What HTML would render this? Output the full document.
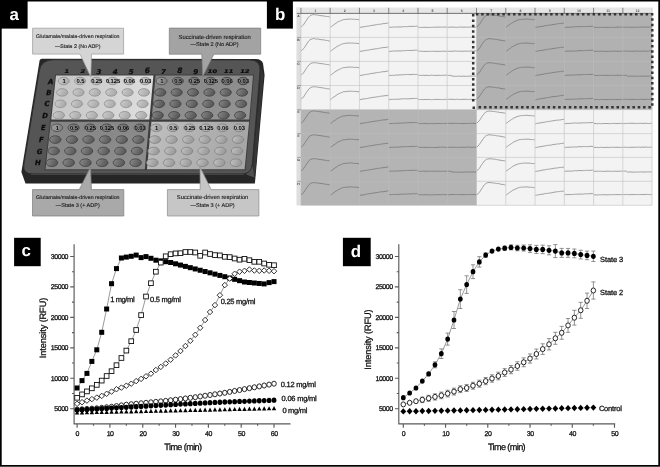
<!DOCTYPE html>
<html lang="en"><head><meta charset="utf-8"><title>Figure</title>
<style>html,body{margin:0;padding:0;background:#fff;overflow:hidden}svg{display:block}text{font-family:'Liberation Sans', Arial, sans-serif;text-rendering:geometricPrecision}</style></head><body>
<svg width="660" height="467" viewBox="0 0 660 467">
<defs>
<linearGradient id="wl" x1="0" y1="0.2" x2="1" y2="0.5"><stop offset="0" stop-color="#cbcbcb"/><stop offset="1" stop-color="#a8a8a8"/></linearGradient>
<linearGradient id="wd" x1="0" y1="0.2" x2="1" y2="0.5"><stop offset="0" stop-color="#868686"/><stop offset="1" stop-color="#545454"/></linearGradient>
<linearGradient id="wm" x1="0" y1="0.2" x2="1" y2="0.5"><stop offset="0" stop-color="#c2c2c2"/><stop offset="1" stop-color="#969696"/></linearGradient>
<linearGradient id="w1" x1="0" y1="0.2" x2="1" y2="0.5"><stop offset="0" stop-color="#a2a2a2"/><stop offset="1" stop-color="#7c7c7c"/></linearGradient>
<linearGradient id="wd2" x1="0" y1="0.2" x2="1" y2="0.5"><stop offset="0" stop-color="#888888"/><stop offset="1" stop-color="#565656"/></linearGradient>
<linearGradient id="qTL" x1="0" y1="0" x2="1" y2="0.15"><stop offset="0" stop-color="#c4c4c4"/><stop offset="0.6" stop-color="#d2d2d2"/><stop offset="1" stop-color="#dedede"/></linearGradient>
<linearGradient id="qTR" x1="0" y1="0" x2="1" y2="1"><stop offset="0" stop-color="#858585"/><stop offset="1" stop-color="#959595"/></linearGradient>
<linearGradient id="qBL" x1="0" y1="0" x2="1" y2="1"><stop offset="0" stop-color="#858585"/><stop offset="1" stop-color="#8e8e8e"/></linearGradient>
<linearGradient id="qBR" x1="0" y1="0" x2="1" y2="0.15"><stop offset="0" stop-color="#c0c0c0"/><stop offset="1" stop-color="#a6a6a6"/></linearGradient>
<filter id="soft" x="-2%" y="-2%" width="104%" height="104%"><feGaussianBlur stdDeviation="0.35"/></filter>
</defs>
<rect x="0" y="0" width="660" height="467" fill="#fff"/>
<g filter="url(#soft)">
<g id="panelA">
<path d="M42,58.8 L256,59 Q261.5,59.2 263,63.5 L264.6,75 L254.9,183.5 L25.5,183.5 L21.4,172 L39.6,60.5 Q40,58.8 42,58.8 Z" fill="#262626"/>
<path d="M261.2,68 L263.6,76 L255.2,176 L252.4,172 Z" fill="#343434"/>
<path d="M252.6,166 L254.4,177.5 L246,174.4 Z" fill="#505050"/>
<path d="M54,59.7 L249.5,59.9 Q260.8,60 260,71 L252.3,164 Q251.5,173.9 242,173.9 L33,173.9 Q22.3,173.9 23.9,164.5 L39.4,70.5 Q41.2,59.7 54,59.7 Z" fill="#545454" stroke="#2e2e2e" stroke-width="0.9"/>
<path d="M31,174.5 L244,174.5" stroke="#5e5e5e" stroke-width="0.5" fill="none"/>
<path d="M55.2,74.4 L254,74.4 L245.6,170.2 L44.4,170.2 Z" fill="#3e3e3e"/>
<path d="M56,75.4 L153.4,75.4 L149.4,119.6 L51.3,119.6 Z" fill="url(#qTL)"/>
<path d="M155.6,75.4 L253,75.4 L249.2,119.6 L151.6,119.6 Z" fill="url(#qTR)"/>
<path d="M50.9,121.8 L149.1,121.8 L144.8,169.2 L45.5,169.2 Z" fill="url(#qBL)"/>
<path d="M151.4,121.8 L249.1,121.8 L244.6,169.2 L147,169.2 Z" fill="url(#qBR)"/>
<ellipse cx="63.8" cy="81" rx="5.5" ry="3.72" fill="url(#wl)" stroke="#8c8c8c" stroke-width="0.8"/>
<ellipse cx="80.1" cy="81" rx="5.5" ry="3.72" fill="url(#wl)" stroke="#8c8c8c" stroke-width="0.8"/>
<ellipse cx="96.4" cy="81" rx="5.5" ry="3.72" fill="url(#wl)" stroke="#8c8c8c" stroke-width="0.8"/>
<ellipse cx="112.7" cy="81" rx="5.5" ry="3.72" fill="url(#wl)" stroke="#8c8c8c" stroke-width="0.8"/>
<ellipse cx="129" cy="81" rx="5.5" ry="3.72" fill="url(#wl)" stroke="#8c8c8c" stroke-width="0.8"/>
<ellipse cx="145.3" cy="81" rx="5.5" ry="3.72" fill="url(#wl)" stroke="#8c8c8c" stroke-width="0.8"/>
<ellipse cx="161.6" cy="81" rx="5.5" ry="3.72" fill="url(#w1)" stroke="#484848" stroke-width="0.8"/>
<ellipse cx="177.9" cy="81" rx="5.5" ry="3.72" fill="url(#wd)" stroke="#3e3e3e" stroke-width="0.8"/>
<ellipse cx="194.2" cy="81" rx="5.5" ry="3.72" fill="url(#wd)" stroke="#3e3e3e" stroke-width="0.8"/>
<ellipse cx="210.5" cy="81" rx="5.5" ry="3.72" fill="url(#wd)" stroke="#3e3e3e" stroke-width="0.8"/>
<ellipse cx="226.8" cy="81" rx="5.5" ry="3.72" fill="url(#wd)" stroke="#3e3e3e" stroke-width="0.8"/>
<ellipse cx="243.1" cy="81" rx="5.5" ry="3.72" fill="url(#wd)" stroke="#3e3e3e" stroke-width="0.8"/>
<text x="50.6" y="83.6" font-size="6.9" font-weight="700" font-style="italic" text-anchor="middle" fill="#0d0d0d" stroke="#0d0d0d" stroke-width="0.28" style="font-family:'DejaVu Sans','Liberation Sans',sans-serif">A</text>
<ellipse cx="62.15" cy="92.4" rx="5.54" ry="3.74" fill="url(#wl)" stroke="#8c8c8c" stroke-width="0.8"/>
<ellipse cx="78.51" cy="92.4" rx="5.54" ry="3.74" fill="url(#wl)" stroke="#8c8c8c" stroke-width="0.8"/>
<ellipse cx="94.87" cy="92.4" rx="5.54" ry="3.74" fill="url(#wl)" stroke="#8c8c8c" stroke-width="0.8"/>
<ellipse cx="111.23" cy="92.4" rx="5.54" ry="3.74" fill="url(#wl)" stroke="#8c8c8c" stroke-width="0.8"/>
<ellipse cx="127.59" cy="92.4" rx="5.54" ry="3.74" fill="url(#wl)" stroke="#8c8c8c" stroke-width="0.8"/>
<ellipse cx="143.95" cy="92.4" rx="5.54" ry="3.74" fill="url(#wl)" stroke="#8c8c8c" stroke-width="0.8"/>
<ellipse cx="160.31" cy="92.4" rx="5.54" ry="3.74" fill="url(#wd)" stroke="#3e3e3e" stroke-width="0.8"/>
<ellipse cx="176.67" cy="92.4" rx="5.54" ry="3.74" fill="url(#wd)" stroke="#3e3e3e" stroke-width="0.8"/>
<ellipse cx="193.03" cy="92.4" rx="5.54" ry="3.74" fill="url(#wd)" stroke="#3e3e3e" stroke-width="0.8"/>
<ellipse cx="209.39" cy="92.4" rx="5.54" ry="3.74" fill="url(#wd)" stroke="#3e3e3e" stroke-width="0.8"/>
<ellipse cx="225.75" cy="92.4" rx="5.54" ry="3.74" fill="url(#wd)" stroke="#3e3e3e" stroke-width="0.8"/>
<ellipse cx="242.11" cy="92.4" rx="5.54" ry="3.74" fill="url(#wd)" stroke="#3e3e3e" stroke-width="0.8"/>
<text x="48.81" y="95" font-size="6.9" font-weight="700" font-style="italic" text-anchor="middle" fill="#0d0d0d" stroke="#0d0d0d" stroke-width="0.28" style="font-family:'DejaVu Sans','Liberation Sans',sans-serif">B</text>
<ellipse cx="60.51" cy="103.8" rx="5.57" ry="3.76" fill="url(#wl)" stroke="#8c8c8c" stroke-width="0.8"/>
<ellipse cx="76.93" cy="103.8" rx="5.57" ry="3.76" fill="url(#wl)" stroke="#8c8c8c" stroke-width="0.8"/>
<ellipse cx="93.35" cy="103.8" rx="5.57" ry="3.76" fill="url(#wl)" stroke="#8c8c8c" stroke-width="0.8"/>
<ellipse cx="109.77" cy="103.8" rx="5.57" ry="3.76" fill="url(#wl)" stroke="#8c8c8c" stroke-width="0.8"/>
<ellipse cx="126.19" cy="103.8" rx="5.57" ry="3.76" fill="url(#wl)" stroke="#8c8c8c" stroke-width="0.8"/>
<ellipse cx="142.61" cy="103.8" rx="5.57" ry="3.76" fill="url(#wl)" stroke="#8c8c8c" stroke-width="0.8"/>
<ellipse cx="159.03" cy="103.8" rx="5.57" ry="3.76" fill="url(#wd)" stroke="#3e3e3e" stroke-width="0.8"/>
<ellipse cx="175.45" cy="103.8" rx="5.57" ry="3.76" fill="url(#wd)" stroke="#3e3e3e" stroke-width="0.8"/>
<ellipse cx="191.87" cy="103.8" rx="5.57" ry="3.76" fill="url(#wd)" stroke="#3e3e3e" stroke-width="0.8"/>
<ellipse cx="208.29" cy="103.8" rx="5.57" ry="3.76" fill="url(#wd)" stroke="#3e3e3e" stroke-width="0.8"/>
<ellipse cx="224.71" cy="103.8" rx="5.57" ry="3.76" fill="url(#wd)" stroke="#3e3e3e" stroke-width="0.8"/>
<ellipse cx="241.13" cy="103.8" rx="5.57" ry="3.76" fill="url(#wd)" stroke="#3e3e3e" stroke-width="0.8"/>
<text x="47.02" y="106.4" font-size="6.9" font-weight="700" font-style="italic" text-anchor="middle" fill="#0d0d0d" stroke="#0d0d0d" stroke-width="0.28" style="font-family:'DejaVu Sans','Liberation Sans',sans-serif">C</text>
<ellipse cx="58.84" cy="115.3" rx="5.61" ry="3.78" fill="url(#wl)" stroke="#8c8c8c" stroke-width="0.8"/>
<ellipse cx="75.32" cy="115.3" rx="5.61" ry="3.78" fill="url(#wl)" stroke="#8c8c8c" stroke-width="0.8"/>
<ellipse cx="91.8" cy="115.3" rx="5.61" ry="3.78" fill="url(#wl)" stroke="#8c8c8c" stroke-width="0.8"/>
<ellipse cx="108.29" cy="115.3" rx="5.61" ry="3.78" fill="url(#wl)" stroke="#8c8c8c" stroke-width="0.8"/>
<ellipse cx="124.77" cy="115.3" rx="5.61" ry="3.78" fill="url(#wl)" stroke="#8c8c8c" stroke-width="0.8"/>
<ellipse cx="141.25" cy="115.3" rx="5.61" ry="3.78" fill="url(#wl)" stroke="#8c8c8c" stroke-width="0.8"/>
<ellipse cx="157.73" cy="115.3" rx="5.61" ry="3.78" fill="url(#wd)" stroke="#3e3e3e" stroke-width="0.8"/>
<ellipse cx="174.21" cy="115.3" rx="5.61" ry="3.78" fill="url(#wd)" stroke="#3e3e3e" stroke-width="0.8"/>
<ellipse cx="190.69" cy="115.3" rx="5.61" ry="3.78" fill="url(#wd)" stroke="#3e3e3e" stroke-width="0.8"/>
<ellipse cx="207.17" cy="115.3" rx="5.61" ry="3.78" fill="url(#wd)" stroke="#3e3e3e" stroke-width="0.8"/>
<ellipse cx="223.65" cy="115.3" rx="5.61" ry="3.78" fill="url(#wd)" stroke="#3e3e3e" stroke-width="0.8"/>
<ellipse cx="240.13" cy="115.3" rx="5.61" ry="3.78" fill="url(#wd)" stroke="#3e3e3e" stroke-width="0.8"/>
<text x="45.21" y="117.9" font-size="6.9" font-weight="700" font-style="italic" text-anchor="middle" fill="#0d0d0d" stroke="#0d0d0d" stroke-width="0.28" style="font-family:'DejaVu Sans','Liberation Sans',sans-serif">D</text>
<ellipse cx="57.04" cy="127.8" rx="5.65" ry="3.81" fill="url(#w1)" stroke="#484848" stroke-width="0.8"/>
<ellipse cx="73.58" cy="127.8" rx="5.65" ry="3.81" fill="url(#wd2)" stroke="#404040" stroke-width="0.8"/>
<ellipse cx="90.13" cy="127.8" rx="5.65" ry="3.81" fill="url(#wd2)" stroke="#404040" stroke-width="0.8"/>
<ellipse cx="106.68" cy="127.8" rx="5.65" ry="3.81" fill="url(#wd2)" stroke="#404040" stroke-width="0.8"/>
<ellipse cx="123.22" cy="127.8" rx="5.65" ry="3.81" fill="url(#wd2)" stroke="#404040" stroke-width="0.8"/>
<ellipse cx="139.77" cy="127.8" rx="5.65" ry="3.81" fill="url(#wd2)" stroke="#404040" stroke-width="0.8"/>
<ellipse cx="156.32" cy="127.8" rx="5.65" ry="3.81" fill="url(#wm)" stroke="#808080" stroke-width="0.8"/>
<ellipse cx="172.86" cy="127.8" rx="5.65" ry="3.81" fill="url(#wm)" stroke="#808080" stroke-width="0.8"/>
<ellipse cx="189.41" cy="127.8" rx="5.65" ry="3.81" fill="url(#wm)" stroke="#808080" stroke-width="0.8"/>
<ellipse cx="205.95" cy="127.8" rx="5.65" ry="3.81" fill="url(#wm)" stroke="#808080" stroke-width="0.8"/>
<ellipse cx="222.5" cy="127.8" rx="5.65" ry="3.81" fill="url(#wm)" stroke="#808080" stroke-width="0.8"/>
<ellipse cx="239.05" cy="127.8" rx="5.65" ry="3.81" fill="url(#wm)" stroke="#808080" stroke-width="0.8"/>
<text x="43.25" y="130.4" font-size="6.9" font-weight="700" font-style="italic" text-anchor="middle" fill="#0d0d0d" stroke="#0d0d0d" stroke-width="0.28" style="font-family:'DejaVu Sans','Liberation Sans',sans-serif">E</text>
<ellipse cx="55.33" cy="139.6" rx="5.68" ry="3.83" fill="url(#wd2)" stroke="#404040" stroke-width="0.8"/>
<ellipse cx="71.94" cy="139.6" rx="5.68" ry="3.83" fill="url(#wd2)" stroke="#404040" stroke-width="0.8"/>
<ellipse cx="88.55" cy="139.6" rx="5.68" ry="3.83" fill="url(#wd2)" stroke="#404040" stroke-width="0.8"/>
<ellipse cx="105.16" cy="139.6" rx="5.68" ry="3.83" fill="url(#wd2)" stroke="#404040" stroke-width="0.8"/>
<ellipse cx="121.77" cy="139.6" rx="5.68" ry="3.83" fill="url(#wd2)" stroke="#404040" stroke-width="0.8"/>
<ellipse cx="138.37" cy="139.6" rx="5.68" ry="3.83" fill="url(#wd2)" stroke="#404040" stroke-width="0.8"/>
<ellipse cx="154.98" cy="139.6" rx="5.68" ry="3.83" fill="url(#wm)" stroke="#808080" stroke-width="0.8"/>
<ellipse cx="171.59" cy="139.6" rx="5.68" ry="3.83" fill="url(#wm)" stroke="#808080" stroke-width="0.8"/>
<ellipse cx="188.2" cy="139.6" rx="5.68" ry="3.83" fill="url(#wm)" stroke="#808080" stroke-width="0.8"/>
<ellipse cx="204.81" cy="139.6" rx="5.68" ry="3.83" fill="url(#wm)" stroke="#808080" stroke-width="0.8"/>
<ellipse cx="221.42" cy="139.6" rx="5.68" ry="3.83" fill="url(#wm)" stroke="#808080" stroke-width="0.8"/>
<ellipse cx="238.02" cy="139.6" rx="5.68" ry="3.83" fill="url(#wm)" stroke="#808080" stroke-width="0.8"/>
<text x="41.4" y="142.2" font-size="6.9" font-weight="700" font-style="italic" text-anchor="middle" fill="#0d0d0d" stroke="#0d0d0d" stroke-width="0.28" style="font-family:'DejaVu Sans','Liberation Sans',sans-serif">F</text>
<ellipse cx="53.69" cy="151" rx="5.72" ry="3.85" fill="url(#wd2)" stroke="#404040" stroke-width="0.8"/>
<ellipse cx="70.35" cy="151" rx="5.72" ry="3.85" fill="url(#wd2)" stroke="#404040" stroke-width="0.8"/>
<ellipse cx="87.02" cy="151" rx="5.72" ry="3.85" fill="url(#wd2)" stroke="#404040" stroke-width="0.8"/>
<ellipse cx="103.69" cy="151" rx="5.72" ry="3.85" fill="url(#wd2)" stroke="#404040" stroke-width="0.8"/>
<ellipse cx="120.36" cy="151" rx="5.72" ry="3.85" fill="url(#wd2)" stroke="#404040" stroke-width="0.8"/>
<ellipse cx="137.03" cy="151" rx="5.72" ry="3.85" fill="url(#wd2)" stroke="#404040" stroke-width="0.8"/>
<ellipse cx="153.7" cy="151" rx="5.72" ry="3.85" fill="url(#wm)" stroke="#808080" stroke-width="0.8"/>
<ellipse cx="170.36" cy="151" rx="5.72" ry="3.85" fill="url(#wm)" stroke="#808080" stroke-width="0.8"/>
<ellipse cx="187.03" cy="151" rx="5.72" ry="3.85" fill="url(#wm)" stroke="#808080" stroke-width="0.8"/>
<ellipse cx="203.7" cy="151" rx="5.72" ry="3.85" fill="url(#wm)" stroke="#808080" stroke-width="0.8"/>
<ellipse cx="220.37" cy="151" rx="5.72" ry="3.85" fill="url(#wm)" stroke="#808080" stroke-width="0.8"/>
<ellipse cx="237.04" cy="151" rx="5.72" ry="3.85" fill="url(#wm)" stroke="#808080" stroke-width="0.8"/>
<text x="39.61" y="153.6" font-size="6.9" font-weight="700" font-style="italic" text-anchor="middle" fill="#0d0d0d" stroke="#0d0d0d" stroke-width="0.28" style="font-family:'DejaVu Sans','Liberation Sans',sans-serif">G</text>
<ellipse cx="51.99" cy="162.7" rx="5.76" ry="3.87" fill="url(#wd2)" stroke="#404040" stroke-width="0.8"/>
<ellipse cx="68.72" cy="162.7" rx="5.76" ry="3.87" fill="url(#wd2)" stroke="#404040" stroke-width="0.8"/>
<ellipse cx="85.45" cy="162.7" rx="5.76" ry="3.87" fill="url(#wd2)" stroke="#404040" stroke-width="0.8"/>
<ellipse cx="102.18" cy="162.7" rx="5.76" ry="3.87" fill="url(#wd2)" stroke="#404040" stroke-width="0.8"/>
<ellipse cx="118.91" cy="162.7" rx="5.76" ry="3.87" fill="url(#wd2)" stroke="#404040" stroke-width="0.8"/>
<ellipse cx="135.64" cy="162.7" rx="5.76" ry="3.87" fill="url(#wd2)" stroke="#404040" stroke-width="0.8"/>
<ellipse cx="152.37" cy="162.7" rx="5.76" ry="3.87" fill="url(#wm)" stroke="#808080" stroke-width="0.8"/>
<ellipse cx="169.1" cy="162.7" rx="5.76" ry="3.87" fill="url(#wm)" stroke="#808080" stroke-width="0.8"/>
<ellipse cx="185.83" cy="162.7" rx="5.76" ry="3.87" fill="url(#wm)" stroke="#808080" stroke-width="0.8"/>
<ellipse cx="202.56" cy="162.7" rx="5.76" ry="3.87" fill="url(#wm)" stroke="#808080" stroke-width="0.8"/>
<ellipse cx="219.29" cy="162.7" rx="5.76" ry="3.87" fill="url(#wm)" stroke="#808080" stroke-width="0.8"/>
<ellipse cx="236.02" cy="162.7" rx="5.76" ry="3.87" fill="url(#wm)" stroke="#808080" stroke-width="0.8"/>
<text x="37.77" y="165.3" font-size="6.9" font-weight="700" font-style="italic" text-anchor="middle" fill="#0d0d0d" stroke="#0d0d0d" stroke-width="0.28" style="font-family:'DejaVu Sans','Liberation Sans',sans-serif">H</text>
<text x="64.1" y="83.2" font-size="5.9" font-weight="700" text-anchor="middle" fill="#0a0a0a" stroke="#cfcfcf" stroke-opacity="0.32" stroke-width="0.9" stroke-linejoin="round" paint-order="stroke" letter-spacing="-0.1">1</text>
<text x="80.4" y="83.2" font-size="5.9" font-weight="700" text-anchor="middle" fill="#0a0a0a" stroke="#cfcfcf" stroke-opacity="0.32" stroke-width="0.9" stroke-linejoin="round" paint-order="stroke" letter-spacing="-0.1">0.5</text>
<text x="96.7" y="83.2" font-size="5.9" font-weight="700" text-anchor="middle" fill="#0a0a0a" stroke="#cfcfcf" stroke-opacity="0.32" stroke-width="0.9" stroke-linejoin="round" paint-order="stroke" letter-spacing="-0.1">0.25</text>
<text x="113" y="83.2" font-size="5.9" font-weight="700" text-anchor="middle" fill="#0a0a0a" stroke="#cfcfcf" stroke-opacity="0.32" stroke-width="0.9" stroke-linejoin="round" paint-order="stroke" letter-spacing="-0.1">0.125</text>
<text x="129.3" y="83.2" font-size="5.9" font-weight="700" text-anchor="middle" fill="#0a0a0a" stroke="#cfcfcf" stroke-opacity="0.32" stroke-width="0.9" stroke-linejoin="round" paint-order="stroke" letter-spacing="-0.1">0.06</text>
<text x="145.6" y="83.2" font-size="5.9" font-weight="700" text-anchor="middle" fill="#0a0a0a" stroke="#cfcfcf" stroke-opacity="0.32" stroke-width="0.9" stroke-linejoin="round" paint-order="stroke" letter-spacing="-0.1">0.03</text>
<text x="161.9" y="83.2" font-size="5.9" font-weight="700" text-anchor="middle" fill="#0a0a0a" stroke="#cfcfcf" stroke-opacity="0.32" stroke-width="0.9" stroke-linejoin="round" paint-order="stroke" letter-spacing="-0.1">1</text>
<text x="178.2" y="83.2" font-size="5.9" font-weight="700" text-anchor="middle" fill="#0a0a0a" stroke="#cfcfcf" stroke-opacity="0.32" stroke-width="0.9" stroke-linejoin="round" paint-order="stroke" letter-spacing="-0.1">0.5</text>
<text x="194.5" y="83.2" font-size="5.9" font-weight="700" text-anchor="middle" fill="#0a0a0a" stroke="#cfcfcf" stroke-opacity="0.32" stroke-width="0.9" stroke-linejoin="round" paint-order="stroke" letter-spacing="-0.1">0.25</text>
<text x="210.8" y="83.2" font-size="5.9" font-weight="700" text-anchor="middle" fill="#0a0a0a" stroke="#cfcfcf" stroke-opacity="0.32" stroke-width="0.9" stroke-linejoin="round" paint-order="stroke" letter-spacing="-0.1">0.125</text>
<text x="227.1" y="83.2" font-size="5.9" font-weight="700" text-anchor="middle" fill="#0a0a0a" stroke="#cfcfcf" stroke-opacity="0.32" stroke-width="0.9" stroke-linejoin="round" paint-order="stroke" letter-spacing="-0.1">0.06</text>
<text x="243.4" y="83.2" font-size="5.9" font-weight="700" text-anchor="middle" fill="#0a0a0a" stroke="#cfcfcf" stroke-opacity="0.32" stroke-width="0.9" stroke-linejoin="round" paint-order="stroke" letter-spacing="-0.1">0.03</text>
<text x="57.34" y="130" font-size="5.9" font-weight="700" text-anchor="middle" fill="#0a0a0a" stroke="#cfcfcf" stroke-opacity="0.32" stroke-width="0.9" stroke-linejoin="round" paint-order="stroke" letter-spacing="-0.1">1</text>
<text x="73.88" y="130" font-size="5.9" font-weight="700" text-anchor="middle" fill="#0a0a0a" stroke="#cfcfcf" stroke-opacity="0.32" stroke-width="0.9" stroke-linejoin="round" paint-order="stroke" letter-spacing="-0.1">0.5</text>
<text x="90.43" y="130" font-size="5.9" font-weight="700" text-anchor="middle" fill="#0a0a0a" stroke="#cfcfcf" stroke-opacity="0.32" stroke-width="0.9" stroke-linejoin="round" paint-order="stroke" letter-spacing="-0.1">0.25</text>
<text x="106.98" y="130" font-size="5.9" font-weight="700" text-anchor="middle" fill="#0a0a0a" stroke="#cfcfcf" stroke-opacity="0.32" stroke-width="0.9" stroke-linejoin="round" paint-order="stroke" letter-spacing="-0.1">0.125</text>
<text x="123.52" y="130" font-size="5.9" font-weight="700" text-anchor="middle" fill="#0a0a0a" stroke="#cfcfcf" stroke-opacity="0.32" stroke-width="0.9" stroke-linejoin="round" paint-order="stroke" letter-spacing="-0.1">0.06</text>
<text x="140.07" y="130" font-size="5.9" font-weight="700" text-anchor="middle" fill="#0a0a0a" stroke="#cfcfcf" stroke-opacity="0.32" stroke-width="0.9" stroke-linejoin="round" paint-order="stroke" letter-spacing="-0.1">0.03</text>
<text x="156.62" y="130" font-size="5.9" font-weight="700" text-anchor="middle" fill="#0a0a0a" stroke="#cfcfcf" stroke-opacity="0.32" stroke-width="0.9" stroke-linejoin="round" paint-order="stroke" letter-spacing="-0.1">1</text>
<text x="173.16" y="130" font-size="5.9" font-weight="700" text-anchor="middle" fill="#0a0a0a" stroke="#cfcfcf" stroke-opacity="0.32" stroke-width="0.9" stroke-linejoin="round" paint-order="stroke" letter-spacing="-0.1">0.5</text>
<text x="189.71" y="130" font-size="5.9" font-weight="700" text-anchor="middle" fill="#0a0a0a" stroke="#cfcfcf" stroke-opacity="0.32" stroke-width="0.9" stroke-linejoin="round" paint-order="stroke" letter-spacing="-0.1">0.25</text>
<text x="206.25" y="130" font-size="5.9" font-weight="700" text-anchor="middle" fill="#0a0a0a" stroke="#cfcfcf" stroke-opacity="0.32" stroke-width="0.9" stroke-linejoin="round" paint-order="stroke" letter-spacing="-0.1">0.125</text>
<text x="222.8" y="130" font-size="5.9" font-weight="700" text-anchor="middle" fill="#0a0a0a" stroke="#cfcfcf" stroke-opacity="0.32" stroke-width="0.9" stroke-linejoin="round" paint-order="stroke" letter-spacing="-0.1">0.06</text>
<text x="239.35" y="130" font-size="5.9" font-weight="700" text-anchor="middle" fill="#0a0a0a" stroke="#cfcfcf" stroke-opacity="0.32" stroke-width="0.9" stroke-linejoin="round" paint-order="stroke" letter-spacing="-0.1">0.03</text>
<text transform="translate(66.8,72.7) scale(1.38,1)" font-size="4.9" font-weight="700" font-style="italic" text-anchor="middle" fill="#0d0d0d" stroke="#0d0d0d" stroke-width="0.22" style="font-family:'DejaVu Sans','Liberation Sans',sans-serif">1</text>
<text transform="translate(82.93,72.7) scale(1.38,1)" font-size="4.9" font-weight="700" font-style="italic" text-anchor="middle" fill="#0d0d0d" stroke="#0d0d0d" stroke-width="0.22" style="font-family:'DejaVu Sans','Liberation Sans',sans-serif">2</text>
<text transform="translate(99.06,74) scale(1.08,1)" font-size="6.6" font-weight="700" font-style="italic" text-anchor="middle" fill="#0d0d0d" stroke="#0d0d0d" stroke-width="0.22" style="font-family:'DejaVu Sans','Liberation Sans',sans-serif">3</text>
<text transform="translate(115.19,74) scale(1.08,1)" font-size="6.6" font-weight="700" font-style="italic" text-anchor="middle" fill="#0d0d0d" stroke="#0d0d0d" stroke-width="0.22" style="font-family:'DejaVu Sans','Liberation Sans',sans-serif">4</text>
<text transform="translate(131.32,74) scale(1.08,1)" font-size="6.6" font-weight="700" font-style="italic" text-anchor="middle" fill="#0d0d0d" stroke="#0d0d0d" stroke-width="0.22" style="font-family:'DejaVu Sans','Liberation Sans',sans-serif">5</text>
<text transform="translate(147.45,72.7) scale(1,1)" font-size="7.4" font-weight="700" font-style="italic" text-anchor="middle" fill="#0d0d0d" stroke="#0d0d0d" stroke-width="0.22" style="font-family:'DejaVu Sans','Liberation Sans',sans-serif">6</text>
<text transform="translate(163.58,74) scale(1.08,1)" font-size="6.6" font-weight="700" font-style="italic" text-anchor="middle" fill="#0d0d0d" stroke="#0d0d0d" stroke-width="0.22" style="font-family:'DejaVu Sans','Liberation Sans',sans-serif">7</text>
<text transform="translate(179.71,72.7) scale(1,1)" font-size="7.4" font-weight="700" font-style="italic" text-anchor="middle" fill="#0d0d0d" stroke="#0d0d0d" stroke-width="0.22" style="font-family:'DejaVu Sans','Liberation Sans',sans-serif">8</text>
<text transform="translate(195.84,74) scale(1.08,1)" font-size="6.6" font-weight="700" font-style="italic" text-anchor="middle" fill="#0d0d0d" stroke="#0d0d0d" stroke-width="0.22" style="font-family:'DejaVu Sans','Liberation Sans',sans-serif">9</text>
<text transform="translate(212.57,72.7) scale(1.38,1)" font-size="4.9" font-weight="700" font-style="italic" text-anchor="middle" fill="#0d0d0d" stroke="#0d0d0d" stroke-width="0.22" style="font-family:'DejaVu Sans','Liberation Sans',sans-serif">10</text>
<text transform="translate(228.7,72.7) scale(1.38,1)" font-size="4.9" font-weight="700" font-style="italic" text-anchor="middle" fill="#0d0d0d" stroke="#0d0d0d" stroke-width="0.22" style="font-family:'DejaVu Sans','Liberation Sans',sans-serif">11</text>
<text transform="translate(244.83,72.7) scale(1.38,1)" font-size="4.9" font-weight="700" font-style="italic" text-anchor="middle" fill="#0d0d0d" stroke="#0d0d0d" stroke-width="0.22" style="font-family:'DejaVu Sans','Liberation Sans',sans-serif">12</text>
<path d="M32.6,28.2 L123.6,28.2 L123.6,54.1 L91.5,54.1 L90.8,77 L80,54.1 L32.6,54.1 Z" fill="#d5d5d5" stroke="#999" stroke-width="0.7" stroke-linejoin="miter"/>
<text x="77.8" y="38.3" font-size="5.26" text-anchor="middle" fill="#1a1a1a" stroke="#1a1a1a" stroke-width="0.12">Glutamate/malate-driven respiration</text>
<text x="77.8" y="48" font-size="5.28" text-anchor="middle" fill="#1a1a1a" stroke="#1a1a1a" stroke-width="0.12">—State 2 (No ADP)</text>
<path d="M169.3,28.1 L260.7,28.1 L260.7,54.2 L213.9,54.2 L202.6,76.8 L201.8,54.2 L169.3,54.2 Z" fill="#a3a3a3" stroke="#7c7c7c" stroke-width="0.7" stroke-linejoin="miter"/>
<text x="214.6" y="38.7" font-size="5.82" text-anchor="middle" fill="#1a1a1a" stroke="#1a1a1a" stroke-width="0.12">Succinate-driven respiration</text>
<text x="214.6" y="46.3" font-size="5.56" text-anchor="middle" fill="#1a1a1a" stroke="#1a1a1a" stroke-width="0.12">—State 2 (No ADP)</text>
<path d="M32.5,189.6 L79.3,189.6 L90.6,166.8 L91.4,189.6 L123.8,189.6 L123.8,216 L32.5,216 Z" fill="#a9a9a9" stroke="#7c7c7c" stroke-width="0.7" stroke-linejoin="miter"/>
<text x="77.8" y="199" font-size="5.26" text-anchor="middle" fill="#1a1a1a" stroke="#1a1a1a" stroke-width="0.12">Glutamate/malate-driven respiration</text>
<text x="77.8" y="206.6" font-size="5.5" text-anchor="middle" fill="#1a1a1a" stroke="#1a1a1a" stroke-width="0.12">—State 3 (+ ADP)</text>
<path d="M167.4,189.6 L200.2,189.6 L200,167 L211.2,189.6 L258.9,189.6 L258.9,216 L167.4,216 Z" fill="#c6c6c6" stroke="#8c8c8c" stroke-width="0.7" stroke-linejoin="miter"/>
<text x="212.6" y="199.3" font-size="5.78" text-anchor="middle" fill="#1a1a1a" stroke="#1a1a1a" stroke-width="0.12">Succinate-driven respiration</text>
<text x="212.6" y="206.9" font-size="5.55" text-anchor="middle" fill="#1a1a1a" stroke="#1a1a1a" stroke-width="0.12">—State 3 (+ ADP)</text>
</g>
<g id="panelB">
<rect x="296.3" y="7.6" width="355.8" height="197.7" fill="#f3f3f3"/>
<rect x="296.3" y="7.6" width="355.8" height="5.8" fill="#e6e6e6"/>
<rect x="296.3" y="7.6" width="4.6" height="197.7" fill="#e9e9e9"/>
<rect x="476.5" y="13.4" width="175.6" height="96.3" fill="#b1b1b1"/>
<rect x="300.9" y="109.7" width="175.6" height="95.6" fill="#b4b4b4"/>
<rect x="297.1" y="13.4" width="3.8" height="191.9" fill="#dedede"/>
<path d="M300.9,7.6 V205.3 M330.17,7.6 V205.3 M359.43,7.6 V205.3 M388.7,7.6 V205.3 M417.97,7.6 V205.3 M447.23,7.6 V205.3 M476.5,7.6 V205.3 M505.77,7.6 V205.3 M535.03,7.6 V205.3 M564.3,7.6 V205.3 M593.57,7.6 V205.3 M622.83,7.6 V205.3 M652.1,7.6 V205.3 M300.9,13.4 H652.1 M300.9,37.4 H652.1 M300.9,61.4 H652.1 M300.9,85.5 H652.1 M300.9,109.7 H652.1 M300.9,133.6 H652.1 M300.9,157.4 H652.1 M300.9,181.3 H652.1 M300.9,205.3 H652.1" stroke="#bdbdbd" stroke-width="0.55" fill="none"/>
<path d="M300.9,7.9 V13.4 M330.17,7.9 V13.4 M359.43,7.9 V13.4 M388.7,7.9 V13.4 M417.97,7.9 V13.4 M447.23,7.9 V13.4 M476.5,7.9 V13.4 M505.77,7.9 V13.4 M535.03,7.9 V13.4 M564.3,7.9 V13.4 M593.57,7.9 V13.4 M622.83,7.9 V13.4" stroke="#6a6a6a" stroke-width="0.7" fill="none"/>
<path d="M296.8,13.4 H652.1" stroke="#5e5e5e" stroke-width="0.8" fill="none"/>
<path d="M297.1,37.4 H300.9 M297.1,61.4 H300.9 M297.1,85.5 H300.9 M297.1,109.7 H300.9 M297.1,133.6 H300.9 M297.1,157.4 H300.9 M297.1,181.3 H300.9" stroke="#7a7a7a" stroke-width="0.6" fill="none"/>
<text x="315.53" y="11.8" font-size="3.6" font-weight="700" text-anchor="middle" fill="#555">1</text>
<text x="344.8" y="11.8" font-size="3.6" font-weight="700" text-anchor="middle" fill="#555">2</text>
<text x="374.07" y="11.8" font-size="3.6" font-weight="700" text-anchor="middle" fill="#555">3</text>
<text x="403.33" y="11.8" font-size="3.6" font-weight="700" text-anchor="middle" fill="#555">4</text>
<text x="432.6" y="11.8" font-size="3.6" font-weight="700" text-anchor="middle" fill="#555">5</text>
<text x="461.87" y="11.8" font-size="3.6" font-weight="700" text-anchor="middle" fill="#555">6</text>
<text x="491.13" y="11.8" font-size="3.6" font-weight="700" text-anchor="middle" fill="#555">7</text>
<text x="520.4" y="11.8" font-size="3.6" font-weight="700" text-anchor="middle" fill="#555">8</text>
<text x="549.67" y="11.8" font-size="3.6" font-weight="700" text-anchor="middle" fill="#555">9</text>
<text x="578.93" y="11.8" font-size="3.6" font-weight="700" text-anchor="middle" fill="#555">10</text>
<text x="608.2" y="11.8" font-size="3.6" font-weight="700" text-anchor="middle" fill="#555">11</text>
<text x="637.47" y="11.8" font-size="3.6" font-weight="700" text-anchor="middle" fill="#555">12</text>
<text x="298.5" y="17" font-size="3.3" font-weight="700" text-anchor="middle" fill="#2a2a2a">A</text>
<text x="298.5" y="41" font-size="3.3" font-weight="700" text-anchor="middle" fill="#2a2a2a">B</text>
<text x="298.5" y="65" font-size="3.3" font-weight="700" text-anchor="middle" fill="#2a2a2a">C</text>
<text x="298.5" y="89.1" font-size="3.3" font-weight="700" text-anchor="middle" fill="#2a2a2a">D</text>
<text x="298.5" y="113.3" font-size="3.3" font-weight="700" text-anchor="middle" fill="#2a2a2a">E</text>
<text x="298.5" y="137.2" font-size="3.3" font-weight="700" text-anchor="middle" fill="#2a2a2a">F</text>
<text x="298.5" y="161" font-size="3.3" font-weight="700" text-anchor="middle" fill="#2a2a2a">G</text>
<text x="298.5" y="184.9" font-size="3.3" font-weight="700" text-anchor="middle" fill="#2a2a2a">H</text>
<path d="M301.3,26.67L302.39,25.85L303.49,24.85L304.58,23.07L305.68,21.49L306.77,19.71L307.87,18.12L308.96,16.81L310.06,15.71L311.15,15.14L312.25,14.81L313.34,14.58L314.44,14.66L315.53,14.92L316.63,14.86L317.72,15.03L318.82,15.3L319.91,15.56L321.01,15.61L322.1,15.72L323.2,16.05L324.29,15.95L325.39,16.36L326.48,16.39L327.58,16.53L328.67,16.71L329.77,16.94" stroke="#8a8a8a" stroke-width="0.8" fill="none" stroke-linejoin="round"/>
<path d="M330.57,27.29L331.66,26.3L332.76,25.61L333.85,24.82L334.95,23.96L336.04,23.24L337.14,22.32L338.23,21.7L339.33,21.22L340.42,20.84L341.52,20.32L342.61,19.87L343.71,19.63L344.8,19.47L345.89,19.3L346.99,19.32L348.08,19.2L349.18,19.04L350.27,19.1L351.37,19.05L352.46,19.24L353.56,19.28L354.65,19.24L355.75,19.52L356.84,19.36L357.94,19.53L359.03,19.71" stroke="#8a8a8a" stroke-width="0.8" fill="none" stroke-linejoin="round"/>
<path d="M359.83,27.34L360.93,27.25L362.02,26.94L363.12,26.93L364.21,26.78L365.31,26.54L366.4,26.44L367.5,26.09L368.59,26.02L369.69,25.81L370.78,25.62L371.88,25.4L372.97,25.32L374.07,25.17L375.16,24.87L376.26,24.75L377.35,24.42L378.45,24.43L379.54,24.25L380.64,24.19L381.73,23.99L382.83,23.7L383.92,23.6L385.02,23.56L386.11,23.24L387.21,23.24L388.3,23.02" stroke="#8a8a8a" stroke-width="0.8" fill="none" stroke-linejoin="round"/>
<path d="M389.1,27.18L390.19,27.11L391.29,27.33L392.38,27.04L393.48,27.04L394.57,27.05L395.67,27.18L396.76,26.84L397.86,26.93L398.95,26.92L400.05,27L401.14,26.93L402.24,26.9L403.33,26.64L404.43,26.64L405.52,26.57L406.62,26.73L407.71,26.73L408.81,26.4L409.9,26.38L411,26.37L412.09,26.34L413.19,26.4L414.28,26.41L415.38,26.26L416.47,26.13L417.57,26.26" stroke="#8a8a8a" stroke-width="0.8" fill="none" stroke-linejoin="round"/>
<path d="M418.37,27.27L419.46,27.34L420.56,27.49L421.65,27.39L422.75,27.33L423.84,27.36L424.94,27.39L426.03,27.15L427.13,27.47L428.22,27.42L429.32,27.46L430.41,27.43L431.51,27.28L432.6,27.28L433.69,27.16L434.79,27.35L435.88,27.13L436.98,27.12L438.07,27.16L439.17,27.14L440.26,27.2L441.36,27.08L442.45,27.05L443.55,27.1L444.64,27.07L445.74,27.16L446.83,27.02" stroke="#8a8a8a" stroke-width="0.8" fill="none" stroke-linejoin="round"/>
<path d="M447.63,27.34L448.73,27.24L449.82,27.07L450.92,27.11L452.01,27.14L453.11,27.15L454.2,27.06L455.3,27.33L456.39,27.38L457.49,27.19L458.58,27.19L459.68,27.04L460.77,27.05L461.87,27.14L462.96,27.1L464.06,27.3L465.15,27.05L466.25,26.98L467.34,27.32L468.44,27.16L469.53,27L470.63,27.14L471.72,26.94L472.82,27.12L473.91,27.28L475.01,27.23L476.1,27.15" stroke="#8a8a8a" stroke-width="0.8" fill="none" stroke-linejoin="round"/>
<path d="M476.9,26.65L477.99,25.91L479.09,24.71L480.18,23.27L481.28,21.49L482.37,19.83L483.47,18.2L484.56,16.72L485.66,15.94L486.75,15.3L487.85,15.03L488.94,14.79L490.04,14.77L491.13,14.89L492.23,14.89L493.32,15.12L494.42,15.22L495.51,15.29L496.61,15.45L497.7,15.69L498.8,15.84L499.89,16.13L500.99,16.39L502.08,16.43L503.18,16.76L504.27,16.96L505.37,17.13" stroke="#767676" stroke-width="0.8" fill="none" stroke-linejoin="round"/>
<path d="M506.17,27.16L507.26,26.31L508.36,25.51L509.45,24.69L510.55,23.91L511.64,23.26L512.74,22.56L513.83,21.93L514.93,21.3L516.02,20.83L517.12,20.42L518.21,19.81L519.31,19.65L520.4,19.6L521.49,19.44L522.59,19.31L523.68,19.14L524.78,19.02L525.87,19.16L526.97,18.99L528.06,19.21L529.16,19.35L530.25,19.27L531.35,19.36L532.44,19.6L533.54,19.62L534.63,19.54" stroke="#767676" stroke-width="0.8" fill="none" stroke-linejoin="round"/>
<path d="M535.43,27.33L536.53,27.15L537.62,27.19L538.72,26.97L539.81,26.6L540.91,26.61L542,26.47L543.1,26.19L544.19,25.92L545.29,25.79L546.38,25.49L547.48,25.27L548.57,25.36L549.67,25.08L550.76,24.88L551.86,24.83L552.95,24.52L554.05,24.48L555.14,24.3L556.24,23.96L557.33,23.82L558.43,23.71L559.52,23.56L560.62,23.53L561.71,23.31L562.81,23.23L563.9,23.01" stroke="#767676" stroke-width="0.8" fill="none" stroke-linejoin="round"/>
<path d="M564.7,27.47L565.79,27.22L566.89,27.21L567.98,27.21L569.08,27.29L570.17,27.06L571.27,27.2L572.36,27L573.46,26.96L574.55,26.91L575.65,26.68L576.74,26.79L577.84,26.65L578.93,26.53L580.03,26.79L581.12,26.51L582.22,26.58L583.31,26.64L584.41,26.55L585.5,26.43L586.6,26.47L587.69,26.46L588.79,26.51L589.88,26.23L590.98,26.37L592.07,26.22L593.17,26.2" stroke="#767676" stroke-width="0.8" fill="none" stroke-linejoin="round"/>
<path d="M593.97,27.42L595.06,27.32L596.16,27.34L597.25,27.42L598.35,27.47L599.44,27.3L600.54,27.36L601.63,27.32L602.73,27.32L603.82,27.39L604.92,27.3L606.01,27.33L607.11,27.31L608.2,27.49L609.29,27.39L610.39,27.44L611.48,27.46L612.58,27.19L613.67,27.3L614.77,27.43L615.86,27.38L616.96,27.11L618.05,27.1L619.15,27.21L620.24,27.06L621.34,27.11L622.43,27.04" stroke="#767676" stroke-width="0.8" fill="none" stroke-linejoin="round"/>
<path d="M623.23,27.26L624.33,27.31L625.42,27.35L626.52,27.07L627.61,27.28L628.71,27.26L629.8,27.07L630.9,27.34L631.99,27.38L633.09,27.1L634.18,27.37L635.28,27.16L636.37,27.2L637.47,27.38L638.56,27.32L639.66,27.05L640.75,27.15L641.85,27.17L642.94,27.09L644.04,27.03L645.13,27.07L646.23,27.21L647.32,26.94L648.42,27.13L649.51,27.08L650.61,26.91L651.7,27.02" stroke="#767676" stroke-width="0.8" fill="none" stroke-linejoin="round"/>
<path d="M301.3,50.76L302.39,49.95L303.49,48.68L304.58,47.33L305.68,45.56L306.77,43.88L307.87,42.13L308.96,40.74L310.06,39.71L311.15,39.24L312.25,38.87L313.34,38.59L314.44,38.66L315.53,38.94L316.63,39.06L317.72,39.04L318.82,39.16L319.91,39.55L321.01,39.61L322.1,39.81L323.2,39.79L324.29,39.95L325.39,40.32L326.48,40.42L327.58,40.51L328.67,40.94L329.77,41.04" stroke="#8a8a8a" stroke-width="0.8" fill="none" stroke-linejoin="round"/>
<path d="M330.57,51.29L331.66,50.27L332.76,49.69L333.85,48.65L334.95,48.1L336.04,47.21L337.14,46.4L338.23,45.85L339.33,45.43L340.42,44.72L341.52,44.23L342.61,43.93L343.71,43.53L344.8,43.37L345.89,43.26L346.99,43.1L348.08,43.06L349.18,43.06L350.27,43.02L351.37,43.12L352.46,43.07L353.56,43.21L354.65,43.21L355.75,43.34L356.84,43.33L357.94,43.48L359.03,43.5" stroke="#8a8a8a" stroke-width="0.8" fill="none" stroke-linejoin="round"/>
<path d="M359.83,51.51L360.93,51.27L362.02,50.98L363.12,50.88L364.21,50.83L365.31,50.4L366.4,50.42L367.5,50.13L368.59,49.96L369.69,49.87L370.78,49.56L371.88,49.41L372.97,49.28L374.07,49.18L375.16,48.83L376.26,48.8L377.35,48.6L378.45,48.41L379.54,48.18L380.64,48L381.73,47.77L382.83,47.66L383.92,47.51L385.02,47.58L386.11,47.31L387.21,47.15L388.3,47" stroke="#8a8a8a" stroke-width="0.8" fill="none" stroke-linejoin="round"/>
<path d="M389.1,51.45L390.19,51.41L391.29,51.29L392.38,51.1L393.48,51.04L394.57,51.01L395.67,51.03L396.76,50.87L397.86,50.93L398.95,50.82L400.05,51.03L401.14,50.99L402.24,50.78L403.33,50.62L404.43,50.85L405.52,50.56L406.62,50.53L407.71,50.37L408.81,50.48L409.9,50.49L411,50.47L412.09,50.33L413.19,50.41L414.28,50.19L415.38,50.26L416.47,50.16L417.57,50.25" stroke="#8a8a8a" stroke-width="0.8" fill="none" stroke-linejoin="round"/>
<path d="M418.37,51.15L419.46,51.14L420.56,51.25L421.65,51.22L422.75,51.35L423.84,51.33L424.94,51.41L426.03,51.38L427.13,51.4L428.22,51.46L429.32,51.28L430.41,51.25L431.51,51.5L432.6,51.19L433.69,51.39L434.79,51.36L435.88,51.12L436.98,51.41L438.07,51.42L439.17,51.31L440.26,51.34L441.36,51.36L442.45,51.1L443.55,51.24L444.64,51.22L445.74,51.33L446.83,51.31" stroke="#8a8a8a" stroke-width="0.8" fill="none" stroke-linejoin="round"/>
<path d="M447.63,51.32L448.73,51.23L449.82,51.35L450.92,51.27L452.01,51.27L453.11,51.1L454.2,51.02L455.3,51.06L456.39,51.15L457.49,51.05L458.58,51.33L459.68,51.22L460.77,51.25L461.87,51.25L462.96,51.26L464.06,51.18L465.15,50.99L466.25,51.27L467.34,51.25L468.44,51.15L469.53,51.15L470.63,51.19L471.72,50.95L472.82,51.2L473.91,51.01L475.01,50.93L476.1,50.99" stroke="#8a8a8a" stroke-width="0.8" fill="none" stroke-linejoin="round"/>
<path d="M476.9,50.79L477.99,49.87L479.09,48.88L480.18,47.33L481.28,45.48L482.37,43.71L483.47,42.24L484.56,40.86L485.66,39.92L486.75,39.2L487.85,38.97L488.94,38.58L490.04,38.58L491.13,38.75L492.23,39.04L493.32,39.06L494.42,39.28L495.51,39.29L496.61,39.46L497.7,39.68L498.8,39.96L499.89,40.13L500.99,40.31L502.08,40.39L503.18,40.64L504.27,40.81L505.37,40.99" stroke="#767676" stroke-width="0.8" fill="none" stroke-linejoin="round"/>
<path d="M506.17,51.09L507.26,50.51L508.36,49.5L509.45,48.91L510.55,48.12L511.64,47.08L512.74,46.44L513.83,45.92L514.93,45.44L516.02,44.77L517.12,44.27L518.21,43.84L519.31,43.73L520.4,43.4L521.49,43.38L522.59,43.13L523.68,43.15L524.78,43.24L525.87,42.97L526.97,43.13L528.06,43.13L529.16,43.32L530.25,43.36L531.35,43.31L532.44,43.58L533.54,43.55L534.63,43.5" stroke="#767676" stroke-width="0.8" fill="none" stroke-linejoin="round"/>
<path d="M535.43,51.3L536.53,51.25L537.62,51.06L538.72,50.83L539.81,50.6L540.91,50.47L542,50.28L543.1,50.25L544.19,49.82L545.29,49.85L546.38,49.69L547.48,49.3L548.57,49.35L549.67,49.1L550.76,48.99L551.86,48.65L552.95,48.5L554.05,48.34L555.14,48.35L556.24,48.07L557.33,47.86L558.43,47.75L559.52,47.57L560.62,47.38L561.71,47.26L562.81,47.35L563.9,47.06" stroke="#767676" stroke-width="0.8" fill="none" stroke-linejoin="round"/>
<path d="M564.7,51.48L565.79,51.18L566.89,51.14L567.98,51.19L569.08,51.02L570.17,51.04L571.27,51.21L572.36,51.14L573.46,51.07L574.55,50.95L575.65,51.01L576.74,50.98L577.84,50.78L578.93,50.8L580.03,50.51L581.12,50.71L582.22,50.57L583.31,50.65L584.41,50.58L585.5,50.42L586.6,50.3L587.69,50.6L588.79,50.27L589.88,50.37L590.98,50.29L592.07,50.24L593.17,50.38" stroke="#767676" stroke-width="0.8" fill="none" stroke-linejoin="round"/>
<path d="M593.97,51.5L595.06,51.23L596.16,51.38L597.25,51.25L598.35,51.34L599.44,51.28L600.54,51.2L601.63,51.19L602.73,51.21L603.82,51.47L604.92,51.32L606.01,51.22L607.11,51.47L608.2,51.51L609.29,51.29L610.39,51.17L611.48,51.18L612.58,51.13L613.67,51.21L614.77,51.11L615.86,51.16L616.96,51.16L618.05,51.26L619.15,51.37L620.24,51.31L621.34,51.18L622.43,51.17" stroke="#767676" stroke-width="0.8" fill="none" stroke-linejoin="round"/>
<path d="M623.23,51.21L624.33,51.15L625.42,51.14L626.52,51.04L627.61,51.12L628.71,51.38L629.8,51.06L630.9,51.2L631.99,51.25L633.09,51.34L634.18,51.09L635.28,51.11L636.37,51.11L637.47,51.16L638.56,51.17L639.66,51.35L640.75,51.3L641.85,51.3L642.94,50.97L644.04,50.97L645.13,51.21L646.23,51.27L647.32,51.11L648.42,51.14L649.51,50.91L650.61,51.05L651.7,51.24" stroke="#767676" stroke-width="0.8" fill="none" stroke-linejoin="round"/>
<path d="M301.3,74.87L302.39,74.11L303.49,72.99L304.58,71.16L305.68,69.4L306.77,67.67L307.87,66.27L308.96,64.87L310.06,63.98L311.15,63.23L312.25,62.98L313.34,62.78L314.44,62.67L315.53,62.85L316.63,62.84L317.72,63.2L318.82,63.2L319.91,63.56L321.01,63.64L322.1,63.7L323.2,63.81L324.29,64.02L325.39,64.31L326.48,64.52L327.58,64.53L328.67,64.71L329.77,65.02" stroke="#8a8a8a" stroke-width="0.8" fill="none" stroke-linejoin="round"/>
<path d="M330.57,75.28L331.66,74.41L332.76,73.56L333.85,72.85L334.95,71.9L336.04,71.21L337.14,70.47L338.23,70L339.33,69.38L340.42,68.93L341.52,68.36L342.61,67.88L343.71,67.56L344.8,67.64L345.89,67.44L346.99,67.2L348.08,67.03L349.18,67.13L350.27,67.15L351.37,67.04L352.46,67.08L353.56,67.29L354.65,67.45L355.75,67.33L356.84,67.36L357.94,67.53L359.03,67.64" stroke="#8a8a8a" stroke-width="0.8" fill="none" stroke-linejoin="round"/>
<path d="M359.83,75.55L360.93,75.23L362.02,75.21L363.12,75.01L364.21,74.76L365.31,74.49L366.4,74.52L367.5,74.15L368.59,74.11L369.69,73.75L370.78,73.56L371.88,73.53L372.97,73.21L374.07,73.22L375.16,72.92L376.26,72.66L377.35,72.51L378.45,72.4L379.54,72.3L380.64,72.22L381.73,71.84L382.83,71.78L383.92,71.6L385.02,71.69L386.11,71.32L387.21,71.16L388.3,71.03" stroke="#8a8a8a" stroke-width="0.8" fill="none" stroke-linejoin="round"/>
<path d="M389.1,75.34L390.19,75.48L391.29,75.43L392.38,75.33L393.48,75.38L394.57,75.31L395.67,75.04L396.76,74.94L397.86,75.17L398.95,75.05L400.05,74.74L401.14,74.93L402.24,74.78L403.33,74.73L404.43,74.67L405.52,74.56L406.62,74.46L407.71,74.53L408.81,74.53L409.9,74.72L411,74.38L412.09,74.67L413.19,74.35L414.28,74.38L415.38,74.52L416.47,74.49L417.57,74.32" stroke="#8a8a8a" stroke-width="0.8" fill="none" stroke-linejoin="round"/>
<path d="M418.37,75.21L419.46,75.37L420.56,75.33L421.65,75.54L422.75,75.26L423.84,75.33L424.94,75.53L426.03,75.2L427.13,75.34L428.22,75.5L429.32,75.48L430.41,75.21L431.51,75.2L432.6,75.21L433.69,75.53L434.79,75.27L435.88,75.44L436.98,75.49L438.07,75.27L439.17,75.24L440.26,75.49L441.36,75.35L442.45,75.21L443.55,75.37L444.64,75.21L445.74,75.18L446.83,75.07" stroke="#8a8a8a" stroke-width="0.8" fill="none" stroke-linejoin="round"/>
<path d="M447.63,75.35L448.73,75.41L449.82,75.31L450.92,75.42L452.01,76.04L453.11,76.12L454.2,76.21L455.3,76.39L456.39,76.39L457.49,76.18L458.58,76.13L459.68,76.2L460.77,76.22L461.87,76.38L462.96,76.09L464.06,76.32L465.15,76.28L466.25,76.31L467.34,76.28L468.44,76.21L469.53,76.09L470.63,76.08L471.72,76.09L472.82,76.23L473.91,75.96L475.01,76L476.1,76.2" stroke="#8a8a8a" stroke-width="0.8" fill="none" stroke-linejoin="round"/>
<path d="M476.9,74.7L477.99,73.88L479.09,72.72L480.18,71.25L481.28,69.46L482.37,67.91L483.47,66.38L484.56,64.96L485.66,63.79L486.75,63.05L487.85,62.82L488.94,62.71L490.04,62.75L491.13,62.82L492.23,62.9L493.32,63.1L494.42,63.31L495.51,63.48L496.61,63.67L497.7,63.86L498.8,63.97L499.89,63.98L500.99,64.37L502.08,64.4L503.18,64.66L504.27,64.79L505.37,65.08" stroke="#767676" stroke-width="0.8" fill="none" stroke-linejoin="round"/>
<path d="M506.17,75.17L507.26,74.37L508.36,73.56L509.45,72.72L510.55,72.15L511.64,71.29L512.74,70.43L513.83,69.84L514.93,69.48L516.02,68.82L517.12,68.29L518.21,68.04L519.31,67.67L520.4,67.65L521.49,67.27L522.59,67.25L523.68,67.26L524.78,67.23L525.87,67.22L526.97,66.93L528.06,67.09L529.16,67.13L530.25,67.23L531.35,67.55L532.44,67.52L533.54,67.7L534.63,67.63" stroke="#767676" stroke-width="0.8" fill="none" stroke-linejoin="round"/>
<path d="M535.43,75.6L536.53,75.3L537.62,75.06L538.72,75.02L539.81,74.89L540.91,74.46L542,74.41L543.1,74.24L544.19,73.93L545.29,73.79L546.38,73.54L547.48,73.37L548.57,73.2L549.67,73.12L550.76,72.97L551.86,72.67L552.95,72.45L554.05,72.37L555.14,72.31L556.24,72L557.33,71.88L558.43,71.72L559.52,71.76L560.62,71.56L561.71,71.29L562.81,71.17L563.9,71.13" stroke="#767676" stroke-width="0.8" fill="none" stroke-linejoin="round"/>
<path d="M564.7,75.4L565.79,75.38L566.89,75.13L567.98,75.11L569.08,75.27L570.17,75.11L571.27,75.02L572.36,74.98L573.46,75.18L574.55,74.89L575.65,74.94L576.74,74.81L577.84,74.79L578.93,74.91L580.03,74.92L581.12,74.63L582.22,74.53L583.31,74.7L584.41,74.47L585.5,74.37L586.6,74.67L587.69,74.46L588.79,74.58L589.88,74.4L590.98,74.55L592.07,74.36L593.17,74.21" stroke="#767676" stroke-width="0.8" fill="none" stroke-linejoin="round"/>
<path d="M593.97,75.2L595.06,75.4L596.16,75.43L597.25,75.53L598.35,75.22L599.44,75.42L600.54,75.33L601.63,75.38L602.73,75.24L603.82,75.3L604.92,75.39L606.01,75.54L607.11,75.23L608.2,75.37L609.29,75.48L610.39,75.53L611.48,75.24L612.58,75.2L613.67,75.5L614.77,75.5L615.86,75.31L616.96,75.14L618.05,75.45L619.15,75.24L620.24,75.43L621.34,75.31L622.43,75.38" stroke="#767676" stroke-width="0.8" fill="none" stroke-linejoin="round"/>
<path d="M623.23,75.13L624.33,75.36L625.42,75.15L626.52,75.22L627.61,76.35L628.71,76.35L629.8,76.1L630.9,76.12L631.99,76.18L633.09,76.23L634.18,76.18L635.28,76.08L636.37,76.13L637.47,76.31L638.56,76.36L639.66,76.03L640.75,76.22L641.85,76.28L642.94,76L644.04,76.29L645.13,76.01L646.23,76.18L647.32,76.16L648.42,76.18L649.51,76.05L650.61,76.08L651.7,76.13" stroke="#767676" stroke-width="0.8" fill="none" stroke-linejoin="round"/>
<path d="M301.3,98.91L302.39,98.2L303.49,96.99L304.58,95.36L305.68,93.51L306.77,91.93L307.87,90.38L308.96,88.86L310.06,88.04L311.15,87.36L312.25,87.03L313.34,86.72L314.44,86.78L315.53,86.82L316.63,86.97L317.72,87.21L318.82,87.26L319.91,87.53L321.01,87.71L322.1,87.74L323.2,88.07L324.29,88.08L325.39,88.45L326.48,88.65L327.58,88.76L328.67,88.81L329.77,89.13" stroke="#8a8a8a" stroke-width="0.8" fill="none" stroke-linejoin="round"/>
<path d="M330.57,99.38L331.66,98.73L332.76,97.68L333.85,97.08L334.95,96.33L336.04,95.47L337.14,94.71L338.23,93.91L339.33,93.62L340.42,92.95L341.52,92.63L342.61,92.2L343.71,91.66L344.8,91.71L345.89,91.63L346.99,91.26L348.08,91.25L349.18,91.33L350.27,91.12L351.37,91.3L352.46,91.21L353.56,91.45L354.65,91.34L355.75,91.53L356.84,91.74L357.94,91.62L359.03,91.72" stroke="#8a8a8a" stroke-width="0.8" fill="none" stroke-linejoin="round"/>
<path d="M359.83,99.66L360.93,99.42L362.02,99.15L363.12,99.01L364.21,98.81L365.31,98.85L366.4,98.59L367.5,98.47L368.59,98.07L369.69,98.06L370.78,97.68L371.88,97.62L372.97,97.46L374.07,97.2L375.16,97.18L376.26,96.92L377.35,96.76L378.45,96.68L379.54,96.28L380.64,96.37L381.73,96.12L382.83,95.92L383.92,95.91L385.02,95.62L386.11,95.7L387.21,95.45L388.3,95.26" stroke="#8a8a8a" stroke-width="0.8" fill="none" stroke-linejoin="round"/>
<path d="M389.1,99.64L390.19,99.47L391.29,99.32L392.38,99.49L393.48,99.18L394.57,99.42L395.67,99.16L396.76,99.26L397.86,99.35L398.95,99.15L400.05,99.13L401.14,98.95L402.24,98.79L403.33,98.75L404.43,98.75L405.52,98.88L406.62,98.77L407.71,98.77L408.81,98.89L409.9,98.57L411,98.57L412.09,98.7L413.19,98.44L414.28,98.4L415.38,98.5L416.47,98.38L417.57,98.44" stroke="#8a8a8a" stroke-width="0.8" fill="none" stroke-linejoin="round"/>
<path d="M418.37,99.43L419.46,99.57L420.56,99.57L421.65,99.42L422.75,99.58L423.84,99.53L424.94,99.4L426.03,99.7L427.13,99.44L428.22,99.4L429.32,99.38L430.41,99.59L431.51,99.68L432.6,99.64L433.69,99.49L434.79,99.43L435.88,99.32L436.98,99.55L438.07,99.51L439.17,99.42L440.26,99.53L441.36,99.44L442.45,99.62L443.55,99.53L444.64,99.34L445.74,99.58L446.83,99.24" stroke="#8a8a8a" stroke-width="0.8" fill="none" stroke-linejoin="round"/>
<path d="M447.63,99.43L448.73,99.38L449.82,99.32L450.92,99.25L452.01,99.52L453.11,99.23L454.2,99.43L455.3,99.58L456.39,99.28L457.49,99.3L458.58,99.46L459.68,99.42L460.77,99.47L461.87,99.53L462.96,99.28L464.06,99.32L465.15,99.31L466.25,99.21L467.34,99.52L468.44,99.47L469.53,99.43L470.63,99.15L471.72,99.46L472.82,99.41L473.91,99.3L475.01,99.39L476.1,99.28" stroke="#8a8a8a" stroke-width="0.8" fill="none" stroke-linejoin="round"/>
<path d="M476.9,98.85L477.99,98.04L479.09,96.93L480.18,95.24L481.28,93.6L482.37,91.97L483.47,90.44L484.56,89.03L485.66,88.03L486.75,87.21L487.85,87.06L488.94,86.79L490.04,86.88L491.13,86.94L492.23,87.01L493.32,87.27L494.42,87.52L495.51,87.46L496.61,87.82L497.7,87.73L498.8,87.96L499.89,88.12L500.99,88.46L502.08,88.7L503.18,88.83L504.27,88.89L505.37,89.24" stroke="#767676" stroke-width="0.8" fill="none" stroke-linejoin="round"/>
<path d="M506.17,99.37L507.26,98.52L508.36,97.9L509.45,97.01L510.55,96.24L511.64,95.45L512.74,94.76L513.83,93.99L514.93,93.57L516.02,93.01L517.12,92.6L518.21,92.06L519.31,91.82L520.4,91.65L521.49,91.45L522.59,91.3L523.68,91.33L524.78,91.14L525.87,91.34L526.97,91.09L528.06,91.14L529.16,91.25L530.25,91.57L531.35,91.49L532.44,91.52L533.54,91.57L534.63,91.66" stroke="#767676" stroke-width="0.8" fill="none" stroke-linejoin="round"/>
<path d="M535.43,99.71L536.53,99.51L537.62,99.34L538.72,99.17L539.81,98.79L540.91,98.75L542,98.5L543.1,98.45L544.19,98.26L545.29,98.1L546.38,97.67L547.48,97.72L548.57,97.54L549.67,97.37L550.76,96.96L551.86,96.82L552.95,96.62L554.05,96.43L555.14,96.5L556.24,96.32L557.33,96.12L558.43,96.05L559.52,95.86L560.62,95.63L561.71,95.45L562.81,95.31L563.9,95.38" stroke="#767676" stroke-width="0.8" fill="none" stroke-linejoin="round"/>
<path d="M564.7,99.42L565.79,99.42L566.89,99.41L567.98,99.22L569.08,99.26L570.17,99.22L571.27,99.34L572.36,99.16L573.46,99.1L574.55,99.29L575.65,99.07L576.74,99.16L577.84,99.02L578.93,98.75L580.03,98.85L581.12,98.81L582.22,98.9L583.31,98.71L584.41,98.81L585.5,98.72L586.6,98.57L587.69,98.78L588.79,98.46L589.88,98.71L590.98,98.43L592.07,98.34L593.17,98.38" stroke="#767676" stroke-width="0.8" fill="none" stroke-linejoin="round"/>
<path d="M593.97,99.63L595.06,99.72L596.16,99.35L597.25,99.53L598.35,99.53L599.44,99.65L600.54,99.42L601.63,99.53L602.73,99.48L603.82,99.66L604.92,99.45L606.01,99.7L607.11,99.45L608.2,99.43L609.29,99.6L610.39,99.52L611.48,99.36L612.58,99.55L613.67,99.33L614.77,99.59L615.86,99.55L616.96,99.57L618.05,99.5L619.15,99.39L620.24,99.4L621.34,99.38L622.43,99.56" stroke="#767676" stroke-width="0.8" fill="none" stroke-linejoin="round"/>
<path d="M623.23,99.26L624.33,99.56L625.42,99.24L626.52,99.3L627.61,99.33L628.71,99.57L629.8,99.42L630.9,99.37L631.99,99.56L633.09,99.31L634.18,99.4L635.28,99.43L636.37,99.51L637.47,99.51L638.56,99.46L639.66,99.34L640.75,99.32L641.85,99.25L642.94,99.5L644.04,99.42L645.13,99.44L646.23,99.22L647.32,99.31L648.42,99.43L649.51,99.34L650.61,99.16L651.7,99.28" stroke="#767676" stroke-width="0.8" fill="none" stroke-linejoin="round"/>
<path d="M301.3,123.07L302.39,122.12L303.49,120.97L304.58,119.4L305.68,117.8L306.77,116.12L307.87,114.43L308.96,112.99L310.06,112.06L311.15,111.41L312.25,111.23L313.34,110.9L314.44,110.93L315.53,111.03L316.63,111.4L317.72,111.47L318.82,111.44L319.91,111.85L321.01,111.76L322.1,112.01L323.2,112.34L324.29,112.45L325.39,112.62L326.48,112.71L327.58,112.83L328.67,113.14L329.77,113.17" stroke="#767676" stroke-width="0.8" fill="none" stroke-linejoin="round"/>
<path d="M330.57,123.36L331.66,122.61L332.76,121.7L333.85,121L334.95,120.34L336.04,119.54L337.14,118.71L338.23,118.13L339.33,117.57L340.42,116.95L341.52,116.64L342.61,116.17L343.71,115.95L344.8,115.87L345.89,115.61L346.99,115.53L348.08,115.49L349.18,115.36L350.27,115.27L351.37,115.38L352.46,115.51L353.56,115.57L354.65,115.63L355.75,115.76L356.84,115.8L357.94,115.87L359.03,115.9" stroke="#767676" stroke-width="0.8" fill="none" stroke-linejoin="round"/>
<path d="M359.83,123.63L360.93,123.53L362.02,123.2L363.12,123.11L364.21,123.03L365.31,122.82L366.4,122.62L367.5,122.32L368.59,122.19L369.69,122.01L370.78,121.88L371.88,121.63L372.97,121.53L374.07,121.41L375.16,121.04L376.26,121L377.35,120.87L378.45,120.6L379.54,120.46L380.64,120.43L381.73,120.02L382.83,120.04L383.92,119.8L385.02,119.85L386.11,119.76L387.21,119.51L388.3,119.27" stroke="#767676" stroke-width="0.8" fill="none" stroke-linejoin="round"/>
<path d="M389.1,123.59L390.19,123.53L391.29,123.55L392.38,123.43L393.48,123.43L394.57,123.45L395.67,123.29L396.76,123.21L397.86,123.36L398.95,123.04L400.05,123.17L401.14,123.02L402.24,123.11L403.33,122.82L404.43,123.1L405.52,122.82L406.62,122.67L407.71,122.72L408.81,122.74L409.9,122.56L411,122.68L412.09,122.65L413.19,122.73L414.28,122.57L415.38,122.51L416.47,122.46L417.57,122.62" stroke="#767676" stroke-width="0.8" fill="none" stroke-linejoin="round"/>
<path d="M418.37,123.73L419.46,123.57L420.56,123.46L421.65,123.67L422.75,123.52L423.84,123.45L424.94,123.42L426.03,123.67L427.13,123.68L428.22,123.61L429.32,123.55L430.41,123.59L431.51,123.46L432.6,123.73L433.69,123.5L434.79,123.6L435.88,123.65L436.98,123.64L438.07,123.5L439.17,123.43L440.26,123.52L441.36,123.35L442.45,123.6L443.55,123.42L444.64,123.59L445.74,123.36L446.83,123.4" stroke="#767676" stroke-width="0.8" fill="none" stroke-linejoin="round"/>
<path d="M447.63,123.35L448.73,123.41L449.82,123.33L450.92,123.26L452.01,123.53L453.11,123.36L454.2,123.35L455.3,123.37L456.39,123.43L457.49,123.42L458.58,123.49L459.68,123.5L460.77,123.39L461.87,123.6L462.96,123.57L464.06,123.26L465.15,123.54L466.25,123.56L467.34,123.5L468.44,123.25L469.53,123.5L470.63,123.42L471.72,123.18L472.82,123.17L473.91,123.51L475.01,123.39L476.1,123.23" stroke="#767676" stroke-width="0.8" fill="none" stroke-linejoin="round"/>
<path d="M476.9,122.85L477.99,122.1L479.09,120.99L480.18,119.53L481.28,117.7L482.37,115.92L483.47,114.64L484.56,113.17L485.66,112.04L486.75,111.57L487.85,111.26L488.94,111.08L490.04,111.02L491.13,111.23L492.23,111.35L493.32,111.5L494.42,111.47L495.51,111.77L496.61,111.89L497.7,112.11L498.8,112.18L499.89,112.48L500.99,112.57L502.08,112.67L503.18,112.84L504.27,113L505.37,113.28" stroke="#8a8a8a" stroke-width="0.8" fill="none" stroke-linejoin="round"/>
<path d="M506.17,123.32L507.26,122.63L508.36,121.73L509.45,121.03L510.55,120.25L511.64,119.49L512.74,118.81L513.83,117.95L514.93,117.67L516.02,117.05L517.12,116.63L518.21,116.25L519.31,115.97L520.4,115.72L521.49,115.61L522.59,115.64L523.68,115.3L524.78,115.43L525.87,115.39L526.97,115.18L528.06,115.43L529.16,115.54L530.25,115.7L531.35,115.61L532.44,115.88L533.54,115.83L534.63,115.91" stroke="#8a8a8a" stroke-width="0.8" fill="none" stroke-linejoin="round"/>
<path d="M535.43,123.8L536.53,123.36L537.62,123.38L538.72,123.17L539.81,122.9L540.91,122.87L542,122.54L543.1,122.39L544.19,122.22L545.29,122.1L546.38,121.76L547.48,121.64L548.57,121.45L549.67,121.31L550.76,121.22L551.86,120.9L552.95,120.89L554.05,120.6L555.14,120.47L556.24,120.23L557.33,120.15L558.43,120.16L559.52,119.94L560.62,119.85L561.71,119.59L562.81,119.46L563.9,119.32" stroke="#8a8a8a" stroke-width="0.8" fill="none" stroke-linejoin="round"/>
<path d="M564.7,123.59L565.79,123.57L566.89,123.58L567.98,123.25L569.08,123.46L570.17,123.48L571.27,123.3L572.36,123.07L573.46,123.12L574.55,122.96L575.65,122.99L576.74,123.21L577.84,123.05L578.93,123.02L580.03,123.03L581.12,123.03L582.22,122.87L583.31,122.85L584.41,122.82L585.5,122.82L586.6,122.75L587.69,122.75L588.79,122.55L589.88,122.69L590.98,122.58L592.07,122.66L593.17,122.39" stroke="#8a8a8a" stroke-width="0.8" fill="none" stroke-linejoin="round"/>
<path d="M593.97,123.44L595.06,123.39L596.16,123.66L597.25,123.72L598.35,123.62L599.44,123.51L600.54,123.68L601.63,123.67L602.73,123.59L603.82,123.47L604.92,123.49L606.01,123.53L607.11,123.49L608.2,123.54L609.29,123.61L610.39,123.71L611.48,123.37L612.58,123.55L613.67,123.34L614.77,123.36L615.86,123.61L616.96,123.52L618.05,123.64L619.15,123.45L620.24,123.28L621.34,123.41L622.43,123.48" stroke="#8a8a8a" stroke-width="0.8" fill="none" stroke-linejoin="round"/>
<path d="M623.23,123.61L624.33,123.62L625.42,123.43L626.52,123.41L627.61,123.29L628.71,123.5L629.8,123.34L630.9,123.31L631.99,123.26L633.09,123.26L634.18,123.51L635.28,123.3L636.37,123.62L637.47,123.29L638.56,123.57L639.66,123.29L640.75,123.24L641.85,123.49L642.94,123.3L644.04,123.47L645.13,123.26L646.23,123.2L647.32,123.46L648.42,123.43L649.51,123.47L650.61,123.42L651.7,123.17" stroke="#8a8a8a" stroke-width="0.8" fill="none" stroke-linejoin="round"/>
<path d="M301.3,146.85L302.39,146.11L303.49,144.9L304.58,143.44L305.68,141.54L306.77,140.03L307.87,138.47L308.96,136.84L310.06,135.89L311.15,135.39L312.25,135.21L313.34,134.77L314.44,134.82L315.53,135.08L316.63,135.06L317.72,135.4L318.82,135.45L319.91,135.48L321.01,135.73L322.1,135.95L323.2,136.07L324.29,136.31L325.39,136.34L326.48,136.71L327.58,136.76L328.67,137.03L329.77,137.21" stroke="#767676" stroke-width="0.8" fill="none" stroke-linejoin="round"/>
<path d="M330.57,147.26L331.66,146.45L332.76,145.76L333.85,145.01L334.95,144.19L336.04,143.36L337.14,142.51L338.23,141.84L339.33,141.58L340.42,140.98L341.52,140.57L342.61,140.02L343.71,139.78L344.8,139.77L345.89,139.6L346.99,139.41L348.08,139.24L349.18,139.24L350.27,139.34L351.37,139.16L352.46,139.33L353.56,139.39L354.65,139.56L355.75,139.62L356.84,139.56L357.94,139.56L359.03,139.72" stroke="#767676" stroke-width="0.8" fill="none" stroke-linejoin="round"/>
<path d="M359.83,147.5L360.93,147.36L362.02,147.25L363.12,147.08L364.21,146.66L365.31,146.7L366.4,146.51L367.5,146.35L368.59,146.08L369.69,145.81L370.78,145.79L371.88,145.6L372.97,145.38L374.07,145.26L375.16,144.93L376.26,144.69L377.35,144.66L378.45,144.57L379.54,144.23L380.64,144.23L381.73,144.13L382.83,143.8L383.92,143.78L385.02,143.67L386.11,143.49L387.21,143.28L388.3,143.17" stroke="#767676" stroke-width="0.8" fill="none" stroke-linejoin="round"/>
<path d="M389.1,147.5L390.19,147.47L391.29,147.3L392.38,147.11L393.48,147.33L394.57,147.28L395.67,147.03L396.76,147.11L397.86,147.19L398.95,147.14L400.05,146.95L401.14,146.89L402.24,146.89L403.33,146.69L404.43,146.65L405.52,146.6L406.62,146.75L407.71,146.6L408.81,146.64L409.9,146.55L411,146.57L412.09,146.4L413.19,146.33L414.28,146.65L415.38,146.39L416.47,146.26L417.57,146.43" stroke="#767676" stroke-width="0.8" fill="none" stroke-linejoin="round"/>
<path d="M418.37,147.51L419.46,147.28L420.56,147.44L421.65,147.35L422.75,147.41L423.84,147.23L424.94,147.23L426.03,147.59L427.13,147.54L428.22,147.4L429.32,147.43L430.41,147.32L431.51,147.51L432.6,147.38L433.69,147.56L434.79,147.48L435.88,147.49L436.98,147.54L438.07,147.27L439.17,147.18L440.26,147.23L441.36,147.21L442.45,147.17L443.55,147.15L444.64,147.32L445.74,147.43L446.83,147.27" stroke="#767676" stroke-width="0.8" fill="none" stroke-linejoin="round"/>
<path d="M447.63,147.45L448.73,147.44L449.82,147.12L450.92,147.32L452.01,147.25L453.11,147.14L454.2,147.46L455.3,147.19L456.39,147.31L457.49,147.34L458.58,147.45L459.68,147.35L460.77,147.25L461.87,147.27L462.96,147.15L464.06,147.44L465.15,147.44L466.25,147.15L467.34,147.07L468.44,147.14L469.53,147.17L470.63,147.36L471.72,147.35L472.82,147.32L473.91,147.02L475.01,147.28L476.1,147.24" stroke="#767676" stroke-width="0.8" fill="none" stroke-linejoin="round"/>
<path d="M476.9,146.85L477.99,146.18L479.09,144.79L480.18,143.21L481.28,141.68L482.37,140.02L483.47,138.46L484.56,136.92L485.66,136.05L486.75,135.42L487.85,135.01L488.94,134.84L490.04,134.8L491.13,134.91L492.23,135.15L493.32,135.2L494.42,135.37L495.51,135.51L496.61,135.82L497.7,135.79L498.8,136.15L499.89,136.17L500.99,136.31L502.08,136.74L503.18,136.72L504.27,137.11L505.37,137.27" stroke="#8a8a8a" stroke-width="0.8" fill="none" stroke-linejoin="round"/>
<path d="M506.17,147.4L507.26,146.38L508.36,145.67L509.45,144.77L510.55,144.23L511.64,143.44L512.74,142.61L513.83,141.95L514.93,141.4L516.02,141.02L517.12,140.47L518.21,140.11L519.31,139.65L520.4,139.55L521.49,139.38L522.59,139.45L523.68,139.31L524.78,139.16L525.87,139.33L526.97,139.13L528.06,139.25L529.16,139.27L530.25,139.38L531.35,139.63L532.44,139.57L533.54,139.61L534.63,139.79" stroke="#8a8a8a" stroke-width="0.8" fill="none" stroke-linejoin="round"/>
<path d="M535.43,147.47L536.53,147.46L537.62,147.05L538.72,147.11L539.81,146.66L540.91,146.72L542,146.47L543.1,146.16L544.19,146.05L545.29,145.81L546.38,145.62L547.48,145.42L548.57,145.29L549.67,145.28L550.76,145.12L551.86,144.93L552.95,144.53L554.05,144.42L555.14,144.43L556.24,144.03L557.33,144.07L558.43,143.82L559.52,143.89L560.62,143.49L561.71,143.58L562.81,143.32L563.9,143.14" stroke="#8a8a8a" stroke-width="0.8" fill="none" stroke-linejoin="round"/>
<path d="M564.7,147.22L565.79,147.48L566.89,147.32L567.98,147.15L569.08,147.2L570.17,147.33L571.27,147.02L572.36,147.11L573.46,146.9L574.55,146.87L575.65,147.05L576.74,146.98L577.84,146.74L578.93,146.65L580.03,146.61L581.12,146.76L582.22,146.68L583.31,146.56L584.41,146.51L585.5,146.63L586.6,146.64L587.69,146.65L588.79,146.53L589.88,146.36L590.98,146.28L592.07,146.5L593.17,146.35" stroke="#8a8a8a" stroke-width="0.8" fill="none" stroke-linejoin="round"/>
<path d="M593.97,147.49L595.06,147.24L596.16,147.52L597.25,147.34L598.35,147.53L599.44,147.54L600.54,147.4L601.63,147.22L602.73,147.56L603.82,147.4L604.92,147.54L606.01,147.32L607.11,147.29L608.2,147.53L609.29,147.35L610.39,147.26L611.48,147.33L612.58,147.4L613.67,147.17L614.77,147.36L615.86,147.32L616.96,147.34L618.05,147.18L619.15,147.39L620.24,147.42L621.34,147.43L622.43,147.22" stroke="#8a8a8a" stroke-width="0.8" fill="none" stroke-linejoin="round"/>
<path d="M623.23,147.36L624.33,147.24L625.42,147.38L626.52,147.12L627.61,147.42L628.71,147.45L629.8,147.28L630.9,147.29L631.99,147.3L633.09,147.3L634.18,147.11L635.28,147.46L636.37,147.18L637.47,147.17L638.56,147.13L639.66,147.17L640.75,147.38L641.85,147.07L642.94,147.09L644.04,147.3L645.13,147.11L646.23,147.03L647.32,147.24L648.42,147.22L649.51,147.19L650.61,147.25L651.7,147.02" stroke="#8a8a8a" stroke-width="0.8" fill="none" stroke-linejoin="round"/>
<path d="M301.3,170.77L302.39,169.96L303.49,168.63L304.58,167.04L305.68,165.44L306.77,163.72L307.87,162.16L308.96,160.68L310.06,159.81L311.15,159.05L312.25,158.95L313.34,158.8L314.44,158.57L315.53,158.84L316.63,159.03L317.72,159.01L318.82,159.35L319.91,159.54L321.01,159.55L322.1,159.72L323.2,160L324.29,160.07L325.39,160.22L326.48,160.56L327.58,160.7L328.67,160.75L329.77,160.91" stroke="#767676" stroke-width="0.8" fill="none" stroke-linejoin="round"/>
<path d="M330.57,171.1L331.66,170.32L332.76,169.67L333.85,168.82L334.95,168.07L336.04,167.27L337.14,166.51L338.23,165.67L339.33,165.28L340.42,164.89L341.52,164.43L342.61,163.83L343.71,163.55L344.8,163.49L345.89,163.29L346.99,163.22L348.08,163L349.18,163.07L350.27,163.05L351.37,162.88L352.46,163L353.56,163.32L354.65,163.35L355.75,163.48L356.84,163.48L357.94,163.62L359.03,163.72" stroke="#767676" stroke-width="0.8" fill="none" stroke-linejoin="round"/>
<path d="M359.83,171.49L360.93,171.06L362.02,171.05L363.12,170.76L364.21,170.7L365.31,170.4L366.4,170.29L367.5,170.22L368.59,169.95L369.69,169.66L370.78,169.55L371.88,169.34L372.97,169.3L374.07,168.93L375.16,168.77L376.26,168.7L377.35,168.39L378.45,168.36L379.54,168.29L380.64,168L381.73,167.79L382.83,167.71L383.92,167.6L385.02,167.36L386.11,167.23L387.21,167.1L388.3,167.02" stroke="#767676" stroke-width="0.8" fill="none" stroke-linejoin="round"/>
<path d="M389.1,171.23L390.19,171.14L391.29,171.07L392.38,170.97L393.48,171.1L394.57,171.16L395.67,171.03L396.76,170.97L397.86,170.95L398.95,170.74L400.05,170.88L401.14,170.74L402.24,170.73L403.33,170.71L404.43,170.61L405.52,170.5L406.62,170.44L407.71,170.4L408.81,170.48L409.9,170.4L411,170.45L412.09,170.2L413.19,170.3L414.28,170.46L415.38,170.2L416.47,170.29L417.57,170.23" stroke="#767676" stroke-width="0.8" fill="none" stroke-linejoin="round"/>
<path d="M418.37,171.18L419.46,171.44L420.56,171.19L421.65,171.36L422.75,171.13L423.84,171.1L424.94,171.4L426.03,171.24L427.13,171.1L428.22,171.22L429.32,171.24L430.41,171.35L431.51,171.12L432.6,171.16L433.69,171.42L434.79,171.33L435.88,171.11L436.98,171.16L438.07,171.16L439.17,171.27L440.26,171.24L441.36,171.32L442.45,171.3L443.55,171.18L444.64,171.25L445.74,171.24L446.83,171.24" stroke="#767676" stroke-width="0.8" fill="none" stroke-linejoin="round"/>
<path d="M447.63,171.13L448.73,171.25L449.82,171.22L450.92,171.3L452.01,171.96L453.11,172.24L454.2,171.91L455.3,172.2L456.39,172.13L457.49,172.1L458.58,172.27L459.68,172.13L460.77,172.07L461.87,172.2L462.96,172.23L464.06,172.12L465.15,172.03L466.25,172.04L467.34,172.04L468.44,172.13L469.53,171.96L470.63,171.98L471.72,172.04L472.82,171.96L473.91,171.93L475.01,172.1L476.1,172.11" stroke="#767676" stroke-width="0.8" fill="none" stroke-linejoin="round"/>
<path d="M476.9,170.66L477.99,169.88L479.09,168.67L480.18,167.1L481.28,165.34L482.37,163.74L483.47,162.25L484.56,160.67L485.66,159.96L486.75,159.11L487.85,159.02L488.94,158.79L490.04,158.81L491.13,158.73L492.23,158.94L493.32,159.22L494.42,159.12L495.51,159.29L496.61,159.6L497.7,159.74L498.8,160.02L499.89,160.14L500.99,160.26L502.08,160.58L503.18,160.62L504.27,160.81L505.37,161.04" stroke="#8a8a8a" stroke-width="0.8" fill="none" stroke-linejoin="round"/>
<path d="M506.17,171.11L507.26,170.3L508.36,169.56L509.45,168.69L510.55,168.08L511.64,167.23L512.74,166.42L513.83,165.68L514.93,165.24L516.02,164.73L517.12,164.33L518.21,163.92L519.31,163.69L520.4,163.59L521.49,163.33L522.59,163.19L523.68,163.16L524.78,163.23L525.87,163.01L526.97,163.03L528.06,163.19L529.16,163.09L530.25,163.22L531.35,163.5L532.44,163.54L533.54,163.53L534.63,163.5" stroke="#8a8a8a" stroke-width="0.8" fill="none" stroke-linejoin="round"/>
<path d="M535.43,171.49L536.53,171.25L537.62,171.11L538.72,170.97L539.81,170.76L540.91,170.44L542,170.18L543.1,170.03L544.19,169.91L545.29,169.73L546.38,169.45L547.48,169.27L548.57,169.21L549.67,169.02L550.76,168.78L551.86,168.8L552.95,168.53L554.05,168.2L555.14,168.14L556.24,168.08L557.33,167.8L558.43,167.78L559.52,167.45L560.62,167.41L561.71,167.44L562.81,167.23L563.9,167.13" stroke="#8a8a8a" stroke-width="0.8" fill="none" stroke-linejoin="round"/>
<path d="M564.7,171.15L565.79,171.22L566.89,171.19L567.98,171.04L569.08,171.13L570.17,171.04L571.27,171.17L572.36,170.97L573.46,170.86L574.55,170.71L575.65,170.67L576.74,170.85L577.84,170.56L578.93,170.52L580.03,170.5L581.12,170.58L582.22,170.65L583.31,170.55L584.41,170.59L585.5,170.28L586.6,170.23L587.69,170.48L588.79,170.29L589.88,170.4L590.98,170.24L592.07,170.14L593.17,170.15" stroke="#8a8a8a" stroke-width="0.8" fill="none" stroke-linejoin="round"/>
<path d="M593.97,171.11L595.06,171.41L596.16,171.29L597.25,171.21L598.35,171.24L599.44,171.22L600.54,171.1L601.63,171.41L602.73,171.29L603.82,171.43L604.92,171.24L606.01,171.31L607.11,171.17L608.2,171.09L609.29,171.41L610.39,171.38L611.48,171.17L612.58,171.37L613.67,171.33L614.77,171.13L615.86,171.24L616.96,171.36L618.05,171.18L619.15,171.34L620.24,171.07L621.34,171.11L622.43,171.22" stroke="#8a8a8a" stroke-width="0.8" fill="none" stroke-linejoin="round"/>
<path d="M623.23,171.04L624.33,171.07L625.42,171.28L626.52,171.14L627.61,172.21L628.71,172L629.8,171.98L630.9,172.05L631.99,171.98L633.09,172.27L634.18,172.02L635.28,172.12L636.37,171.95L637.47,172.11L638.56,172.05L639.66,172.04L640.75,171.91L641.85,171.92L642.94,172.17L644.04,171.99L645.13,171.94L646.23,171.91L647.32,171.94L648.42,171.91L649.51,171.82L650.61,172.05L651.7,171.92" stroke="#8a8a8a" stroke-width="0.8" fill="none" stroke-linejoin="round"/>
<path d="M301.3,194.52L302.39,193.91L303.49,192.59L304.58,191.03L305.68,189.47L306.77,187.54L307.87,186.13L308.96,184.8L310.06,183.83L311.15,182.96L312.25,182.79L313.34,182.67L314.44,182.55L315.53,182.86L316.63,182.79L317.72,183.14L318.82,183.17L319.91,183.25L321.01,183.47L322.1,183.54L323.2,183.87L324.29,183.91L325.39,184.28L326.48,184.37L327.58,184.49L328.67,184.64L329.77,184.93" stroke="#767676" stroke-width="0.8" fill="none" stroke-linejoin="round"/>
<path d="M330.57,195.02L331.66,194.4L332.76,193.38L333.85,192.68L334.95,191.91L336.04,191.06L337.14,190.43L338.23,189.7L339.33,189.25L340.42,188.71L341.52,188.18L342.61,187.8L343.71,187.38L344.8,187.29L345.89,187.36L346.99,187.08L348.08,187.09L349.18,186.9L350.27,186.99L351.37,186.9L352.46,187.03L353.56,187.05L354.65,187.07L355.75,187.23L356.84,187.29L357.94,187.35L359.03,187.6" stroke="#767676" stroke-width="0.8" fill="none" stroke-linejoin="round"/>
<path d="M359.83,195.28L360.93,195.13L362.02,195.09L363.12,194.87L364.21,194.71L365.31,194.52L366.4,194.13L367.5,193.98L368.59,193.73L369.69,193.73L370.78,193.54L371.88,193.27L372.97,193.1L374.07,192.99L375.16,192.83L376.26,192.54L377.35,192.54L378.45,192.23L379.54,192.15L380.64,191.85L381.73,191.68L382.83,191.79L383.92,191.6L385.02,191.47L386.11,191.15L387.21,191.02L388.3,190.92" stroke="#767676" stroke-width="0.8" fill="none" stroke-linejoin="round"/>
<path d="M389.1,194.63L390.19,194.62L391.29,194.6L392.38,194.43L393.48,194.48L394.57,194.56L395.67,194.34L396.76,194.54L397.86,194.4L398.95,194.41L400.05,194.19L401.14,194.21L402.24,194.26L403.33,194.08L404.43,193.91L405.52,194.17L406.62,194.11L407.71,193.9L408.81,193.78L409.9,194.05L411,193.93L412.09,193.69L413.19,193.73L414.28,193.65L415.38,193.88L416.47,193.63L417.57,193.86" stroke="#767676" stroke-width="0.8" fill="none" stroke-linejoin="round"/>
<path d="M418.37,194.83L419.46,194.59L420.56,194.81L421.65,194.7L422.75,194.83L423.84,194.86L424.94,194.66L426.03,194.59L427.13,194.91L428.22,194.71L429.32,194.9L430.41,194.81L431.51,194.83L432.6,194.86L433.69,194.78L434.79,194.7L435.88,194.55L436.98,194.78L438.07,194.67L439.17,194.69L440.26,194.84L441.36,194.53L442.45,194.75L443.55,194.48L444.64,194.71L445.74,194.74L446.83,194.53" stroke="#767676" stroke-width="0.8" fill="none" stroke-linejoin="round"/>
<path d="M447.63,194.64L448.73,194.8L449.82,194.67L450.92,194.64L452.01,194.53L453.11,194.46L454.2,194.57L455.3,194.59L456.39,194.51L457.49,194.55L458.58,194.48L459.68,194.7L460.77,194.68L461.87,194.52L462.96,194.51L464.06,194.61L465.15,194.57L466.25,194.75L467.34,194.52L468.44,194.49L469.53,194.7L470.63,194.41L471.72,194.56L472.82,194.47L473.91,194.64L475.01,194.53L476.1,194.6" stroke="#767676" stroke-width="0.8" fill="none" stroke-linejoin="round"/>
<path d="M476.9,194.52L477.99,193.9L479.09,192.74L480.18,191.08L481.28,189.45L482.37,187.74L483.47,186.04L484.56,184.64L485.66,183.71L486.75,182.98L487.85,182.71L488.94,182.54L490.04,182.49L491.13,182.78L492.23,182.85L493.32,182.9L494.42,183.11L495.51,183.32L496.61,183.45L497.7,183.55L498.8,183.69L499.89,183.84L500.99,184.3L502.08,184.42L503.18,184.41L504.27,184.78L505.37,185.04" stroke="#8a8a8a" stroke-width="0.8" fill="none" stroke-linejoin="round"/>
<path d="M506.17,195.12L507.26,194.18L508.36,193.48L509.45,192.66L510.55,191.81L511.64,191.13L512.74,190.21L513.83,189.85L514.93,189.25L516.02,188.72L517.12,188.36L518.21,187.87L519.31,187.43L520.4,187.31L521.49,187.15L522.59,187L523.68,187.12L524.78,187.11L525.87,186.92L526.97,186.85L528.06,187.07L529.16,187.21L530.25,187.32L531.35,187.19L532.44,187.45L533.54,187.55L534.63,187.61" stroke="#8a8a8a" stroke-width="0.8" fill="none" stroke-linejoin="round"/>
<path d="M535.43,195.29L536.53,195.06L537.62,195.06L538.72,194.73L539.81,194.56L540.91,194.43L542,194.19L543.1,194.14L544.19,193.79L545.29,193.55L546.38,193.51L547.48,193.35L548.57,193.22L549.67,193L550.76,192.89L551.86,192.74L552.95,192.44L554.05,192.28L555.14,192.01L556.24,191.89L557.33,191.82L558.43,191.55L559.52,191.59L560.62,191.31L561.71,191.26L562.81,191.28L563.9,190.9" stroke="#8a8a8a" stroke-width="0.8" fill="none" stroke-linejoin="round"/>
<path d="M564.7,194.57L565.79,194.67L566.89,194.53L567.98,194.69L569.08,194.37L570.17,194.64L571.27,194.6L572.36,194.52L573.46,194.34L574.55,194.24L575.65,194.34L576.74,194.24L577.84,194.16L578.93,194.08L580.03,194.07L581.12,194.11L582.22,194.13L583.31,194.13L584.41,193.82L585.5,193.84L586.6,193.87L587.69,193.88L588.79,193.77L589.88,193.68L590.98,193.61L592.07,193.67L593.17,193.69" stroke="#8a8a8a" stroke-width="0.8" fill="none" stroke-linejoin="round"/>
<path d="M593.97,194.92L595.06,194.89L596.16,194.88L597.25,194.92L598.35,194.91L599.44,194.78L600.54,194.86L601.63,194.58L602.73,194.81L603.82,194.78L604.92,194.66L606.01,194.77L607.11,194.91L608.2,194.73L609.29,194.79L610.39,194.65L611.48,194.65L612.58,194.85L613.67,194.52L614.77,194.57L615.86,194.74L616.96,194.65L618.05,194.5L619.15,194.71L620.24,194.59L621.34,194.66L622.43,194.59" stroke="#8a8a8a" stroke-width="0.8" fill="none" stroke-linejoin="round"/>
<path d="M623.23,194.63L624.33,194.64L625.42,194.58L626.52,194.48L627.61,194.5L628.71,194.77L629.8,194.64L630.9,194.47L631.99,194.76L633.09,194.53L634.18,194.47L635.28,194.63L636.37,194.53L637.47,194.62L638.56,194.63L639.66,194.5L640.75,194.62L641.85,194.44L642.94,194.58L644.04,194.6L645.13,194.4L646.23,194.51L647.32,194.38L648.42,194.51L649.51,194.65L650.61,194.53L651.7,194.58" stroke="#8a8a8a" stroke-width="0.8" fill="none" stroke-linejoin="round"/>
<path d="M475.85,13.05h2.5v2.5h-2.5zM481.16,13.05h2.5v2.5h-2.5zM486.46,13.05h2.5v2.5h-2.5zM491.77,13.05h2.5v2.5h-2.5zM497.07,13.05h2.5v2.5h-2.5zM502.38,13.05h2.5v2.5h-2.5zM507.68,13.05h2.5v2.5h-2.5zM512.99,13.05h2.5v2.5h-2.5zM518.29,13.05h2.5v2.5h-2.5zM523.6,13.05h2.5v2.5h-2.5zM528.9,13.05h2.5v2.5h-2.5zM534.21,13.05h2.5v2.5h-2.5zM539.51,13.05h2.5v2.5h-2.5zM544.82,13.05h2.5v2.5h-2.5zM550.12,13.05h2.5v2.5h-2.5zM555.42,13.05h2.5v2.5h-2.5zM560.73,13.05h2.5v2.5h-2.5zM566.04,13.05h2.5v2.5h-2.5zM571.34,13.05h2.5v2.5h-2.5zM576.64,13.05h2.5v2.5h-2.5zM581.95,13.05h2.5v2.5h-2.5zM587.25,13.05h2.5v2.5h-2.5zM592.56,13.05h2.5v2.5h-2.5zM597.87,13.05h2.5v2.5h-2.5zM603.17,13.05h2.5v2.5h-2.5zM608.48,13.05h2.5v2.5h-2.5zM613.78,13.05h2.5v2.5h-2.5zM619.09,13.05h2.5v2.5h-2.5zM624.39,13.05h2.5v2.5h-2.5zM629.7,13.05h2.5v2.5h-2.5zM635,13.05h2.5v2.5h-2.5zM640.31,13.05h2.5v2.5h-2.5zM645.61,13.05h2.5v2.5h-2.5zM650.91,13.05h2.5v2.5h-2.5zM648.35,105.95h2.5v2.5h-2.5zM643.05,105.95h2.5v2.5h-2.5zM637.74,105.95h2.5v2.5h-2.5zM632.44,105.95h2.5v2.5h-2.5zM627.13,105.95h2.5v2.5h-2.5zM621.83,105.95h2.5v2.5h-2.5zM616.52,105.95h2.5v2.5h-2.5zM611.22,105.95h2.5v2.5h-2.5zM605.91,105.95h2.5v2.5h-2.5zM600.61,105.95h2.5v2.5h-2.5zM595.3,105.95h2.5v2.5h-2.5zM590,105.95h2.5v2.5h-2.5zM584.69,105.95h2.5v2.5h-2.5zM579.38,105.95h2.5v2.5h-2.5zM574.08,105.95h2.5v2.5h-2.5zM568.78,105.95h2.5v2.5h-2.5zM563.47,105.95h2.5v2.5h-2.5zM558.16,105.95h2.5v2.5h-2.5zM552.86,105.95h2.5v2.5h-2.5zM547.56,105.95h2.5v2.5h-2.5zM542.25,105.95h2.5v2.5h-2.5zM536.95,105.95h2.5v2.5h-2.5zM531.64,105.95h2.5v2.5h-2.5zM526.34,105.95h2.5v2.5h-2.5zM521.03,105.95h2.5v2.5h-2.5zM515.73,105.95h2.5v2.5h-2.5zM510.42,105.95h2.5v2.5h-2.5zM505.12,105.95h2.5v2.5h-2.5zM499.81,105.95h2.5v2.5h-2.5zM494.5,105.95h2.5v2.5h-2.5zM489.2,105.95h2.5v2.5h-2.5zM483.9,105.95h2.5v2.5h-2.5zM478.59,105.95h2.5v2.5h-2.5zM471.95,19.55h2.5v2.5h-2.5zM471.95,24.86h2.5v2.5h-2.5zM471.95,30.16h2.5v2.5h-2.5zM471.95,35.47h2.5v2.5h-2.5zM471.95,40.77h2.5v2.5h-2.5zM471.95,46.08h2.5v2.5h-2.5zM471.95,51.38h2.5v2.5h-2.5zM471.95,56.69h2.5v2.5h-2.5zM471.95,61.99h2.5v2.5h-2.5zM471.95,67.3h2.5v2.5h-2.5zM471.95,72.6h2.5v2.5h-2.5zM471.95,77.91h2.5v2.5h-2.5zM471.95,83.21h2.5v2.5h-2.5zM471.95,88.52h2.5v2.5h-2.5zM471.95,93.82h2.5v2.5h-2.5zM471.95,99.12h2.5v2.5h-2.5zM651.05,103.25h2.5v2.5h-2.5zM651.05,97.94h2.5v2.5h-2.5zM651.05,92.64h2.5v2.5h-2.5zM651.05,87.34h2.5v2.5h-2.5zM651.05,82.03h2.5v2.5h-2.5zM651.05,76.72h2.5v2.5h-2.5zM651.05,71.42h2.5v2.5h-2.5zM651.05,66.12h2.5v2.5h-2.5zM651.05,60.81h2.5v2.5h-2.5zM651.05,55.51h2.5v2.5h-2.5zM651.05,50.2h2.5v2.5h-2.5zM651.05,44.9h2.5v2.5h-2.5zM651.05,39.59h2.5v2.5h-2.5zM651.05,34.28h2.5v2.5h-2.5zM651.05,28.98h2.5v2.5h-2.5zM651.05,23.68h2.5v2.5h-2.5zM651.05,18.37h2.5v2.5h-2.5zM471.95,13.95h2.5v2.5h-2.5zM472.55,106.55h2.5v2.5h-2.5z" fill="#353535"/>
</g>
<g id="panelC">
<path d="M74.1,244.2 V423.85 H290.5 M74.1,408.7 h-3.9 M74.1,393.48 h-2.1 M74.1,378.26 h-3.9 M74.1,363.04 h-2.1 M74.1,347.82 h-3.9 M74.1,332.6 h-2.1 M74.1,317.38 h-3.9 M74.1,302.16 h-2.1 M74.1,286.94 h-3.9 M74.1,271.72 h-2.1 M74.1,256.5 h-3.9 M77.1,423.85 v3.8 M93.51,423.85 v2 M109.92,423.85 v3.8 M126.33,423.85 v2 M142.74,423.85 v3.8 M159.15,423.85 v2 M175.56,423.85 v3.8 M191.97,423.85 v2 M208.38,423.85 v3.8 M224.79,423.85 v2 M241.2,423.85 v3.8 M257.61,423.85 v2 M274.02,423.85 v3.8" stroke="#5a5a5a" stroke-width="1.15" fill="none"/>
<text x="68.1" y="411.1" font-size="7" text-anchor="end" fill="#0c0c0c" stroke="#0c0c0c" stroke-width="0.26" letter-spacing="-0.42">5000</text>
<text x="68.1" y="380.66" font-size="7" text-anchor="end" fill="#0c0c0c" stroke="#0c0c0c" stroke-width="0.26" letter-spacing="-0.42">10000</text>
<text x="68.1" y="350.22" font-size="7" text-anchor="end" fill="#0c0c0c" stroke="#0c0c0c" stroke-width="0.26" letter-spacing="-0.42">15000</text>
<text x="68.1" y="319.78" font-size="7" text-anchor="end" fill="#0c0c0c" stroke="#0c0c0c" stroke-width="0.26" letter-spacing="-0.42">20000</text>
<text x="68.1" y="289.34" font-size="7" text-anchor="end" fill="#0c0c0c" stroke="#0c0c0c" stroke-width="0.26" letter-spacing="-0.42">25000</text>
<text x="68.1" y="258.9" font-size="7" text-anchor="end" fill="#0c0c0c" stroke="#0c0c0c" stroke-width="0.26" letter-spacing="-0.42">30000</text>
<text x="77.3" y="435.8" font-size="7" text-anchor="middle" fill="#0c0c0c" stroke="#0c0c0c" stroke-width="0.26" letter-spacing="-0.42">0</text>
<text x="110.12" y="435.8" font-size="7" text-anchor="middle" fill="#0c0c0c" stroke="#0c0c0c" stroke-width="0.26" letter-spacing="-0.42">10</text>
<text x="142.94" y="435.8" font-size="7" text-anchor="middle" fill="#0c0c0c" stroke="#0c0c0c" stroke-width="0.26" letter-spacing="-0.42">20</text>
<text x="175.76" y="435.8" font-size="7" text-anchor="middle" fill="#0c0c0c" stroke="#0c0c0c" stroke-width="0.26" letter-spacing="-0.42">30</text>
<text x="208.58" y="435.8" font-size="7" text-anchor="middle" fill="#0c0c0c" stroke="#0c0c0c" stroke-width="0.26" letter-spacing="-0.42">40</text>
<text x="241.4" y="435.8" font-size="7" text-anchor="middle" fill="#0c0c0c" stroke="#0c0c0c" stroke-width="0.26" letter-spacing="-0.42">50</text>
<text x="274.22" y="435.8" font-size="7" text-anchor="middle" fill="#0c0c0c" stroke="#0c0c0c" stroke-width="0.26" letter-spacing="-0.42">60</text>
<text x="182.9" y="450.3" font-size="9.1" text-anchor="middle" fill="#0c0c0c" stroke="#0c0c0c" stroke-width="0.26" letter-spacing="-0.6">Time (min)</text>
<text transform="translate(45.7,328) rotate(-90)" font-size="9.2" text-anchor="middle" fill="#0c0c0c" stroke="#0c0c0c" stroke-width="0.26" letter-spacing="-0.1">Intensity (RFU)</text>
<path d="M77.1,410.37 l2.2,4.18 h-4.4 Z" fill="#000"/>
<path d="M82.02,410.26 l2.2,4.18 h-4.4 Z" fill="#000"/>
<path d="M86.95,410.16 l2.2,4.18 h-4.4 Z" fill="#000"/>
<path d="M91.87,410.05 l2.2,4.18 h-4.4 Z" fill="#000"/>
<path d="M96.79,409.94 l2.2,4.18 h-4.4 Z" fill="#000"/>
<path d="M101.72,409.84 l2.2,4.18 h-4.4 Z" fill="#000"/>
<path d="M106.64,409.73 l2.2,4.18 h-4.4 Z" fill="#000"/>
<path d="M111.56,409.62 l2.2,4.18 h-4.4 Z" fill="#000"/>
<path d="M116.48,409.52 l2.2,4.18 h-4.4 Z" fill="#000"/>
<path d="M121.41,409.41 l2.2,4.18 h-4.4 Z" fill="#000"/>
<path d="M126.33,409.31 l2.2,4.18 h-4.4 Z" fill="#000"/>
<path d="M131.25,409.2 l2.2,4.18 h-4.4 Z" fill="#000"/>
<path d="M136.18,409.09 l2.2,4.18 h-4.4 Z" fill="#000"/>
<path d="M141.1,408.99 l2.2,4.18 h-4.4 Z" fill="#000"/>
<path d="M146.02,408.88 l2.2,4.18 h-4.4 Z" fill="#000"/>
<path d="M150.94,408.77 l2.2,4.18 h-4.4 Z" fill="#000"/>
<path d="M155.87,408.67 l2.2,4.18 h-4.4 Z" fill="#000"/>
<path d="M160.79,408.56 l2.2,4.18 h-4.4 Z" fill="#000"/>
<path d="M165.71,408.45 l2.2,4.18 h-4.4 Z" fill="#000"/>
<path d="M170.64,408.35 l2.2,4.18 h-4.4 Z" fill="#000"/>
<path d="M175.56,408.24 l2.2,4.18 h-4.4 Z" fill="#000"/>
<path d="M180.48,408.13 l2.2,4.18 h-4.4 Z" fill="#000"/>
<path d="M185.41,408.03 l2.2,4.18 h-4.4 Z" fill="#000"/>
<path d="M190.33,407.92 l2.2,4.18 h-4.4 Z" fill="#000"/>
<path d="M195.25,407.81 l2.2,4.18 h-4.4 Z" fill="#000"/>
<path d="M200.18,407.7 l2.2,4.18 h-4.4 Z" fill="#000"/>
<path d="M205.1,407.59 l2.2,4.18 h-4.4 Z" fill="#000"/>
<path d="M210.02,407.48 l2.2,4.18 h-4.4 Z" fill="#000"/>
<path d="M214.94,407.37 l2.2,4.18 h-4.4 Z" fill="#000"/>
<path d="M219.87,407.26 l2.2,4.18 h-4.4 Z" fill="#000"/>
<path d="M224.79,407.16 l2.2,4.18 h-4.4 Z" fill="#000"/>
<path d="M229.71,407.05 l2.2,4.18 h-4.4 Z" fill="#000"/>
<path d="M234.64,406.94 l2.2,4.18 h-4.4 Z" fill="#000"/>
<path d="M239.56,406.83 l2.2,4.18 h-4.4 Z" fill="#000"/>
<path d="M244.48,406.72 l2.2,4.18 h-4.4 Z" fill="#000"/>
<path d="M249.41,406.61 l2.2,4.18 h-4.4 Z" fill="#000"/>
<path d="M254.33,406.5 l2.2,4.18 h-4.4 Z" fill="#000"/>
<path d="M259.25,406.4 l2.2,4.18 h-4.4 Z" fill="#000"/>
<path d="M264.17,406.29 l2.2,4.18 h-4.4 Z" fill="#000"/>
<path d="M269.1,406.18 l2.2,4.18 h-4.4 Z" fill="#000"/>
<path d="M274.02,406.07 l2.2,4.18 h-4.4 Z" fill="#000"/>
<ellipse cx="77.1" cy="409.6" rx="2.26" ry="2.54" fill="#fff" stroke="#111" stroke-width="0.9"/>
<ellipse cx="82.02" cy="409.28" rx="2.26" ry="2.54" fill="#fff" stroke="#111" stroke-width="0.9"/>
<ellipse cx="86.95" cy="408.95" rx="2.26" ry="2.54" fill="#fff" stroke="#111" stroke-width="0.9"/>
<ellipse cx="91.87" cy="408.62" rx="2.26" ry="2.54" fill="#fff" stroke="#111" stroke-width="0.9"/>
<ellipse cx="96.79" cy="408.3" rx="2.26" ry="2.54" fill="#fff" stroke="#111" stroke-width="0.9"/>
<ellipse cx="101.72" cy="407.8" rx="2.26" ry="2.54" fill="#fff" stroke="#111" stroke-width="0.9"/>
<ellipse cx="106.64" cy="407.3" rx="2.26" ry="2.54" fill="#fff" stroke="#111" stroke-width="0.9"/>
<ellipse cx="111.56" cy="406.8" rx="2.26" ry="2.54" fill="#fff" stroke="#111" stroke-width="0.9"/>
<ellipse cx="116.48" cy="406.1" rx="2.26" ry="2.54" fill="#fff" stroke="#111" stroke-width="0.9"/>
<ellipse cx="121.41" cy="405.4" rx="2.26" ry="2.54" fill="#fff" stroke="#111" stroke-width="0.9"/>
<ellipse cx="126.33" cy="404.7" rx="2.26" ry="2.54" fill="#fff" stroke="#111" stroke-width="0.9"/>
<ellipse cx="131.25" cy="404.23" rx="2.26" ry="2.54" fill="#fff" stroke="#111" stroke-width="0.9"/>
<ellipse cx="136.18" cy="403.75" rx="2.26" ry="2.54" fill="#fff" stroke="#111" stroke-width="0.9"/>
<ellipse cx="141.1" cy="403.27" rx="2.26" ry="2.54" fill="#fff" stroke="#111" stroke-width="0.9"/>
<ellipse cx="146.02" cy="402.8" rx="2.26" ry="2.54" fill="#fff" stroke="#111" stroke-width="0.9"/>
<ellipse cx="150.94" cy="402.32" rx="2.26" ry="2.54" fill="#fff" stroke="#111" stroke-width="0.9"/>
<ellipse cx="155.87" cy="401.85" rx="2.26" ry="2.54" fill="#fff" stroke="#111" stroke-width="0.9"/>
<ellipse cx="160.79" cy="401.38" rx="2.26" ry="2.54" fill="#fff" stroke="#111" stroke-width="0.9"/>
<ellipse cx="165.71" cy="400.9" rx="2.26" ry="2.54" fill="#fff" stroke="#111" stroke-width="0.9"/>
<ellipse cx="170.64" cy="400.3" rx="2.26" ry="2.54" fill="#fff" stroke="#111" stroke-width="0.9"/>
<ellipse cx="175.56" cy="399.7" rx="2.26" ry="2.54" fill="#fff" stroke="#111" stroke-width="0.9"/>
<ellipse cx="180.48" cy="399.1" rx="2.26" ry="2.54" fill="#fff" stroke="#111" stroke-width="0.9"/>
<ellipse cx="185.41" cy="398.47" rx="2.26" ry="2.54" fill="#fff" stroke="#111" stroke-width="0.9"/>
<ellipse cx="190.33" cy="397.83" rx="2.26" ry="2.54" fill="#fff" stroke="#111" stroke-width="0.9"/>
<ellipse cx="195.25" cy="397.2" rx="2.26" ry="2.54" fill="#fff" stroke="#111" stroke-width="0.9"/>
<ellipse cx="200.18" cy="396.47" rx="2.26" ry="2.54" fill="#fff" stroke="#111" stroke-width="0.9"/>
<ellipse cx="205.1" cy="395.73" rx="2.26" ry="2.54" fill="#fff" stroke="#111" stroke-width="0.9"/>
<ellipse cx="210.02" cy="395" rx="2.26" ry="2.54" fill="#fff" stroke="#111" stroke-width="0.9"/>
<ellipse cx="214.94" cy="394.27" rx="2.26" ry="2.54" fill="#fff" stroke="#111" stroke-width="0.9"/>
<ellipse cx="219.87" cy="393.53" rx="2.26" ry="2.54" fill="#fff" stroke="#111" stroke-width="0.9"/>
<ellipse cx="224.79" cy="392.8" rx="2.26" ry="2.54" fill="#fff" stroke="#111" stroke-width="0.9"/>
<ellipse cx="229.71" cy="391.88" rx="2.26" ry="2.54" fill="#fff" stroke="#111" stroke-width="0.9"/>
<ellipse cx="234.64" cy="390.96" rx="2.26" ry="2.54" fill="#fff" stroke="#111" stroke-width="0.9"/>
<ellipse cx="239.56" cy="390.04" rx="2.26" ry="2.54" fill="#fff" stroke="#111" stroke-width="0.9"/>
<ellipse cx="244.48" cy="389.12" rx="2.26" ry="2.54" fill="#fff" stroke="#111" stroke-width="0.9"/>
<ellipse cx="249.41" cy="388.2" rx="2.26" ry="2.54" fill="#fff" stroke="#111" stroke-width="0.9"/>
<ellipse cx="254.33" cy="387.3" rx="2.26" ry="2.54" fill="#fff" stroke="#111" stroke-width="0.9"/>
<ellipse cx="259.25" cy="386.4" rx="2.26" ry="2.54" fill="#fff" stroke="#111" stroke-width="0.9"/>
<ellipse cx="264.17" cy="385.5" rx="2.26" ry="2.54" fill="#fff" stroke="#111" stroke-width="0.9"/>
<ellipse cx="269.1" cy="384.6" rx="2.26" ry="2.54" fill="#fff" stroke="#111" stroke-width="0.9"/>
<ellipse cx="274.02" cy="383.7" rx="2.26" ry="2.54" fill="#fff" stroke="#111" stroke-width="0.9"/>
<ellipse cx="77.1" cy="410" rx="2.4" ry="2.65" fill="#000"/>
<ellipse cx="82.02" cy="409.73" rx="2.4" ry="2.65" fill="#000"/>
<ellipse cx="86.95" cy="409.46" rx="2.4" ry="2.65" fill="#000"/>
<ellipse cx="91.87" cy="409.19" rx="2.4" ry="2.65" fill="#000"/>
<ellipse cx="96.79" cy="408.92" rx="2.4" ry="2.65" fill="#000"/>
<ellipse cx="101.72" cy="408.65" rx="2.4" ry="2.65" fill="#000"/>
<ellipse cx="106.64" cy="408.38" rx="2.4" ry="2.65" fill="#000"/>
<ellipse cx="111.56" cy="408.11" rx="2.4" ry="2.65" fill="#000"/>
<ellipse cx="116.48" cy="407.84" rx="2.4" ry="2.65" fill="#000"/>
<ellipse cx="121.41" cy="407.57" rx="2.4" ry="2.65" fill="#000"/>
<ellipse cx="126.33" cy="407.3" rx="2.4" ry="2.65" fill="#000"/>
<ellipse cx="131.25" cy="407.01" rx="2.4" ry="2.65" fill="#000"/>
<ellipse cx="136.18" cy="406.72" rx="2.4" ry="2.65" fill="#000"/>
<ellipse cx="141.1" cy="406.43" rx="2.4" ry="2.65" fill="#000"/>
<ellipse cx="146.02" cy="406.14" rx="2.4" ry="2.65" fill="#000"/>
<ellipse cx="150.94" cy="405.85" rx="2.4" ry="2.65" fill="#000"/>
<ellipse cx="155.87" cy="405.56" rx="2.4" ry="2.65" fill="#000"/>
<ellipse cx="160.79" cy="405.27" rx="2.4" ry="2.65" fill="#000"/>
<ellipse cx="165.71" cy="404.98" rx="2.4" ry="2.65" fill="#000"/>
<ellipse cx="170.64" cy="404.68" rx="2.4" ry="2.65" fill="#000"/>
<ellipse cx="175.56" cy="404.39" rx="2.4" ry="2.65" fill="#000"/>
<ellipse cx="180.48" cy="404.12" rx="2.4" ry="2.65" fill="#000"/>
<ellipse cx="185.41" cy="403.89" rx="2.4" ry="2.65" fill="#000"/>
<ellipse cx="190.33" cy="403.65" rx="2.4" ry="2.65" fill="#000"/>
<ellipse cx="195.25" cy="403.41" rx="2.4" ry="2.65" fill="#000"/>
<ellipse cx="200.18" cy="403.18" rx="2.4" ry="2.65" fill="#000"/>
<ellipse cx="205.1" cy="402.94" rx="2.4" ry="2.65" fill="#000"/>
<ellipse cx="210.02" cy="402.71" rx="2.4" ry="2.65" fill="#000"/>
<ellipse cx="214.94" cy="402.47" rx="2.4" ry="2.65" fill="#000"/>
<ellipse cx="219.87" cy="402.24" rx="2.4" ry="2.65" fill="#000"/>
<ellipse cx="224.79" cy="402" rx="2.4" ry="2.65" fill="#000"/>
<ellipse cx="229.71" cy="401.82" rx="2.4" ry="2.65" fill="#000"/>
<ellipse cx="234.64" cy="401.64" rx="2.4" ry="2.65" fill="#000"/>
<ellipse cx="239.56" cy="401.46" rx="2.4" ry="2.65" fill="#000"/>
<ellipse cx="244.48" cy="401.28" rx="2.4" ry="2.65" fill="#000"/>
<ellipse cx="249.41" cy="401.1" rx="2.4" ry="2.65" fill="#000"/>
<ellipse cx="254.33" cy="400.92" rx="2.4" ry="2.65" fill="#000"/>
<ellipse cx="259.25" cy="400.74" rx="2.4" ry="2.65" fill="#000"/>
<ellipse cx="264.17" cy="400.56" rx="2.4" ry="2.65" fill="#000"/>
<ellipse cx="269.1" cy="400.38" rx="2.4" ry="2.65" fill="#000"/>
<ellipse cx="274.02" cy="400.2" rx="2.4" ry="2.65" fill="#000"/>
<path d="M77.1,388L82.02,380.6L86.95,373.4L91.87,361.4L96.79,349.8L101.72,332.3L106.64,309L111.56,283.7L116.48,268.6L121.41,258L126.33,257.1L131.25,256.3L136.18,255.1L141.1,257.6L146.02,256.6L150.94,258.3L155.87,260.2L160.79,260.9L165.71,261.7L170.64,262.5L175.56,263.79L180.48,265.08L185.41,266.38L190.33,267.67L195.25,268.96L200.18,270.25L205.1,271.54L210.02,272.83L214.94,274.12L219.87,275.42L224.79,276.71L229.71,278L234.64,279.33L239.56,280.67L244.48,282L249.41,282.5L254.33,283L259.25,283.45L264.17,283.9L269.1,282.6L274.02,281.6" stroke="#444" stroke-width="0.55" fill="none"/>
<rect x="74.6" y="385.5" width="5" height="5" fill="#000"/>
<rect x="79.52" y="378.1" width="5" height="5" fill="#000"/>
<rect x="84.45" y="370.9" width="5" height="5" fill="#000"/>
<rect x="89.37" y="358.9" width="5" height="5" fill="#000"/>
<rect x="94.29" y="347.3" width="5" height="5" fill="#000"/>
<rect x="99.22" y="329.8" width="5" height="5" fill="#000"/>
<rect x="104.14" y="306.5" width="5" height="5" fill="#000"/>
<rect x="109.06" y="281.2" width="5" height="5" fill="#000"/>
<rect x="113.98" y="266.1" width="5" height="5" fill="#000"/>
<rect x="118.91" y="255.5" width="5" height="5" fill="#000"/>
<rect x="123.83" y="254.6" width="5" height="5" fill="#000"/>
<rect x="128.75" y="253.8" width="5" height="5" fill="#000"/>
<rect x="133.68" y="252.6" width="5" height="5" fill="#000"/>
<rect x="138.6" y="255.1" width="5" height="5" fill="#000"/>
<rect x="143.52" y="254.1" width="5" height="5" fill="#000"/>
<rect x="148.44" y="255.8" width="5" height="5" fill="#000"/>
<rect x="153.37" y="257.7" width="5" height="5" fill="#000"/>
<rect x="158.29" y="258.4" width="5" height="5" fill="#000"/>
<rect x="163.21" y="259.2" width="5" height="5" fill="#000"/>
<rect x="168.14" y="260" width="5" height="5" fill="#000"/>
<rect x="173.06" y="261.29" width="5" height="5" fill="#000"/>
<rect x="177.98" y="262.58" width="5" height="5" fill="#000"/>
<rect x="182.91" y="263.88" width="5" height="5" fill="#000"/>
<rect x="187.83" y="265.17" width="5" height="5" fill="#000"/>
<rect x="192.75" y="266.46" width="5" height="5" fill="#000"/>
<rect x="197.68" y="267.75" width="5" height="5" fill="#000"/>
<rect x="202.6" y="269.04" width="5" height="5" fill="#000"/>
<rect x="207.52" y="270.33" width="5" height="5" fill="#000"/>
<rect x="212.44" y="271.62" width="5" height="5" fill="#000"/>
<rect x="217.37" y="272.92" width="5" height="5" fill="#000"/>
<rect x="222.29" y="274.21" width="5" height="5" fill="#000"/>
<rect x="227.21" y="275.5" width="5" height="5" fill="#000"/>
<rect x="232.14" y="276.83" width="5" height="5" fill="#000"/>
<rect x="237.06" y="278.17" width="5" height="5" fill="#000"/>
<rect x="241.98" y="279.5" width="5" height="5" fill="#000"/>
<rect x="246.91" y="280" width="5" height="5" fill="#000"/>
<rect x="251.83" y="280.5" width="5" height="5" fill="#000"/>
<rect x="256.75" y="280.95" width="5" height="5" fill="#000"/>
<rect x="261.67" y="281.4" width="5" height="5" fill="#000"/>
<rect x="266.6" y="280.1" width="5" height="5" fill="#000"/>
<rect x="271.52" y="279.1" width="5" height="5" fill="#000"/>
<path d="M77.1,397.8L82.02,394.4L86.95,391.4L91.87,388.3L96.79,384.9L101.72,380.6L106.64,376L111.56,371.2L116.48,365.2L121.41,358L126.33,350.6L131.25,341.2L136.18,330L141.1,315.1L146.02,296.5L150.94,283.2L155.87,271.7L160.79,262.6L165.71,256.3L170.64,254.2L175.56,253.4L180.48,253.2L185.41,252L190.33,252L195.25,252.5L200.18,255.8L205.1,252.5L210.02,254L214.94,255.1L219.87,255.4L224.79,256.8L229.71,257.1L234.64,258.5L239.56,259.7L244.48,258.8L249.41,260.2L254.33,261.8L259.25,261.8L264.17,263.5L269.1,264.8L274.02,265.2" stroke="#444" stroke-width="0.55" fill="none"/>
<rect x="74.75" y="395.45" width="4.7" height="4.7" fill="#fff" stroke="#111" stroke-width="0.9"/>
<rect x="79.67" y="392.05" width="4.7" height="4.7" fill="#fff" stroke="#111" stroke-width="0.9"/>
<rect x="84.6" y="389.05" width="4.7" height="4.7" fill="#fff" stroke="#111" stroke-width="0.9"/>
<rect x="89.52" y="385.95" width="4.7" height="4.7" fill="#fff" stroke="#111" stroke-width="0.9"/>
<rect x="94.44" y="382.55" width="4.7" height="4.7" fill="#fff" stroke="#111" stroke-width="0.9"/>
<rect x="99.37" y="378.25" width="4.7" height="4.7" fill="#fff" stroke="#111" stroke-width="0.9"/>
<rect x="104.29" y="373.65" width="4.7" height="4.7" fill="#fff" stroke="#111" stroke-width="0.9"/>
<rect x="109.21" y="368.85" width="4.7" height="4.7" fill="#fff" stroke="#111" stroke-width="0.9"/>
<rect x="114.13" y="362.85" width="4.7" height="4.7" fill="#fff" stroke="#111" stroke-width="0.9"/>
<rect x="119.06" y="355.65" width="4.7" height="4.7" fill="#fff" stroke="#111" stroke-width="0.9"/>
<rect x="123.98" y="348.25" width="4.7" height="4.7" fill="#fff" stroke="#111" stroke-width="0.9"/>
<rect x="128.9" y="338.85" width="4.7" height="4.7" fill="#fff" stroke="#111" stroke-width="0.9"/>
<rect x="133.83" y="327.65" width="4.7" height="4.7" fill="#fff" stroke="#111" stroke-width="0.9"/>
<rect x="138.75" y="312.75" width="4.7" height="4.7" fill="#fff" stroke="#111" stroke-width="0.9"/>
<rect x="143.67" y="294.15" width="4.7" height="4.7" fill="#fff" stroke="#111" stroke-width="0.9"/>
<rect x="148.59" y="280.85" width="4.7" height="4.7" fill="#fff" stroke="#111" stroke-width="0.9"/>
<rect x="153.52" y="269.35" width="4.7" height="4.7" fill="#fff" stroke="#111" stroke-width="0.9"/>
<rect x="158.44" y="260.25" width="4.7" height="4.7" fill="#fff" stroke="#111" stroke-width="0.9"/>
<rect x="163.36" y="253.95" width="4.7" height="4.7" fill="#fff" stroke="#111" stroke-width="0.9"/>
<rect x="168.29" y="251.85" width="4.7" height="4.7" fill="#fff" stroke="#111" stroke-width="0.9"/>
<rect x="173.21" y="251.05" width="4.7" height="4.7" fill="#fff" stroke="#111" stroke-width="0.9"/>
<rect x="178.13" y="250.85" width="4.7" height="4.7" fill="#fff" stroke="#111" stroke-width="0.9"/>
<rect x="183.06" y="249.65" width="4.7" height="4.7" fill="#fff" stroke="#111" stroke-width="0.9"/>
<rect x="187.98" y="249.65" width="4.7" height="4.7" fill="#fff" stroke="#111" stroke-width="0.9"/>
<rect x="192.9" y="250.15" width="4.7" height="4.7" fill="#fff" stroke="#111" stroke-width="0.9"/>
<rect x="197.83" y="253.45" width="4.7" height="4.7" fill="#fff" stroke="#111" stroke-width="0.9"/>
<rect x="202.75" y="250.15" width="4.7" height="4.7" fill="#fff" stroke="#111" stroke-width="0.9"/>
<rect x="207.67" y="251.65" width="4.7" height="4.7" fill="#fff" stroke="#111" stroke-width="0.9"/>
<rect x="212.59" y="252.75" width="4.7" height="4.7" fill="#fff" stroke="#111" stroke-width="0.9"/>
<rect x="217.52" y="253.05" width="4.7" height="4.7" fill="#fff" stroke="#111" stroke-width="0.9"/>
<rect x="222.44" y="254.45" width="4.7" height="4.7" fill="#fff" stroke="#111" stroke-width="0.9"/>
<rect x="227.36" y="254.75" width="4.7" height="4.7" fill="#fff" stroke="#111" stroke-width="0.9"/>
<rect x="232.29" y="256.15" width="4.7" height="4.7" fill="#fff" stroke="#111" stroke-width="0.9"/>
<rect x="237.21" y="257.35" width="4.7" height="4.7" fill="#fff" stroke="#111" stroke-width="0.9"/>
<rect x="242.13" y="256.45" width="4.7" height="4.7" fill="#fff" stroke="#111" stroke-width="0.9"/>
<rect x="247.06" y="257.85" width="4.7" height="4.7" fill="#fff" stroke="#111" stroke-width="0.9"/>
<rect x="251.98" y="259.45" width="4.7" height="4.7" fill="#fff" stroke="#111" stroke-width="0.9"/>
<rect x="256.9" y="259.45" width="4.7" height="4.7" fill="#fff" stroke="#111" stroke-width="0.9"/>
<rect x="261.82" y="261.15" width="4.7" height="4.7" fill="#fff" stroke="#111" stroke-width="0.9"/>
<rect x="266.75" y="262.45" width="4.7" height="4.7" fill="#fff" stroke="#111" stroke-width="0.9"/>
<rect x="271.67" y="262.85" width="4.7" height="4.7" fill="#fff" stroke="#111" stroke-width="0.9"/>
<path d="M77.1,403.8L82.02,402.2L86.95,400.6L91.87,399.1L96.79,397.6L101.72,395.9L106.64,393.8L111.56,391.6L116.48,389.2L121.41,387.6L126.33,385.7L131.25,383.7L136.18,381.1L141.1,378.9L146.02,376.3L150.94,373.7L155.87,370L160.79,366.9L165.71,363.5L170.64,359.7L175.56,355.4L180.48,351L185.41,346L190.33,340.8L195.25,334.8L200.18,327.8L205.1,320L210.02,312L214.94,305.1L219.87,295.2L224.79,285.1L229.71,278.6L234.64,273.8L239.56,271.7L244.48,270.8L249.41,269.5L254.33,270.5L259.25,270.8L264.17,270.5L269.1,270.8L274.02,271.2" stroke="#444" stroke-width="0.55" fill="none"/>
<path d="M77.1,401.05 l2.75,2.75 l-2.75,2.75 l-2.75,-2.75 Z" fill="#fff" stroke="#111" stroke-width="0.85"/>
<path d="M82.02,399.45 l2.75,2.75 l-2.75,2.75 l-2.75,-2.75 Z" fill="#fff" stroke="#111" stroke-width="0.85"/>
<path d="M86.95,397.85 l2.75,2.75 l-2.75,2.75 l-2.75,-2.75 Z" fill="#fff" stroke="#111" stroke-width="0.85"/>
<path d="M91.87,396.35 l2.75,2.75 l-2.75,2.75 l-2.75,-2.75 Z" fill="#fff" stroke="#111" stroke-width="0.85"/>
<path d="M96.79,394.85 l2.75,2.75 l-2.75,2.75 l-2.75,-2.75 Z" fill="#fff" stroke="#111" stroke-width="0.85"/>
<path d="M101.72,393.15 l2.75,2.75 l-2.75,2.75 l-2.75,-2.75 Z" fill="#fff" stroke="#111" stroke-width="0.85"/>
<path d="M106.64,391.05 l2.75,2.75 l-2.75,2.75 l-2.75,-2.75 Z" fill="#fff" stroke="#111" stroke-width="0.85"/>
<path d="M111.56,388.85 l2.75,2.75 l-2.75,2.75 l-2.75,-2.75 Z" fill="#fff" stroke="#111" stroke-width="0.85"/>
<path d="M116.48,386.45 l2.75,2.75 l-2.75,2.75 l-2.75,-2.75 Z" fill="#fff" stroke="#111" stroke-width="0.85"/>
<path d="M121.41,384.85 l2.75,2.75 l-2.75,2.75 l-2.75,-2.75 Z" fill="#fff" stroke="#111" stroke-width="0.85"/>
<path d="M126.33,382.95 l2.75,2.75 l-2.75,2.75 l-2.75,-2.75 Z" fill="#fff" stroke="#111" stroke-width="0.85"/>
<path d="M131.25,380.95 l2.75,2.75 l-2.75,2.75 l-2.75,-2.75 Z" fill="#fff" stroke="#111" stroke-width="0.85"/>
<path d="M136.18,378.35 l2.75,2.75 l-2.75,2.75 l-2.75,-2.75 Z" fill="#fff" stroke="#111" stroke-width="0.85"/>
<path d="M141.1,376.15 l2.75,2.75 l-2.75,2.75 l-2.75,-2.75 Z" fill="#fff" stroke="#111" stroke-width="0.85"/>
<path d="M146.02,373.55 l2.75,2.75 l-2.75,2.75 l-2.75,-2.75 Z" fill="#fff" stroke="#111" stroke-width="0.85"/>
<path d="M150.94,370.95 l2.75,2.75 l-2.75,2.75 l-2.75,-2.75 Z" fill="#fff" stroke="#111" stroke-width="0.85"/>
<path d="M155.87,367.25 l2.75,2.75 l-2.75,2.75 l-2.75,-2.75 Z" fill="#fff" stroke="#111" stroke-width="0.85"/>
<path d="M160.79,364.15 l2.75,2.75 l-2.75,2.75 l-2.75,-2.75 Z" fill="#fff" stroke="#111" stroke-width="0.85"/>
<path d="M165.71,360.75 l2.75,2.75 l-2.75,2.75 l-2.75,-2.75 Z" fill="#fff" stroke="#111" stroke-width="0.85"/>
<path d="M170.64,356.95 l2.75,2.75 l-2.75,2.75 l-2.75,-2.75 Z" fill="#fff" stroke="#111" stroke-width="0.85"/>
<path d="M175.56,352.65 l2.75,2.75 l-2.75,2.75 l-2.75,-2.75 Z" fill="#fff" stroke="#111" stroke-width="0.85"/>
<path d="M180.48,348.25 l2.75,2.75 l-2.75,2.75 l-2.75,-2.75 Z" fill="#fff" stroke="#111" stroke-width="0.85"/>
<path d="M185.41,343.25 l2.75,2.75 l-2.75,2.75 l-2.75,-2.75 Z" fill="#fff" stroke="#111" stroke-width="0.85"/>
<path d="M190.33,338.05 l2.75,2.75 l-2.75,2.75 l-2.75,-2.75 Z" fill="#fff" stroke="#111" stroke-width="0.85"/>
<path d="M195.25,332.05 l2.75,2.75 l-2.75,2.75 l-2.75,-2.75 Z" fill="#fff" stroke="#111" stroke-width="0.85"/>
<path d="M200.18,325.05 l2.75,2.75 l-2.75,2.75 l-2.75,-2.75 Z" fill="#fff" stroke="#111" stroke-width="0.85"/>
<path d="M205.1,317.25 l2.75,2.75 l-2.75,2.75 l-2.75,-2.75 Z" fill="#fff" stroke="#111" stroke-width="0.85"/>
<path d="M210.02,309.25 l2.75,2.75 l-2.75,2.75 l-2.75,-2.75 Z" fill="#fff" stroke="#111" stroke-width="0.85"/>
<path d="M214.94,302.35 l2.75,2.75 l-2.75,2.75 l-2.75,-2.75 Z" fill="#fff" stroke="#111" stroke-width="0.85"/>
<path d="M219.87,292.45 l2.75,2.75 l-2.75,2.75 l-2.75,-2.75 Z" fill="#fff" stroke="#111" stroke-width="0.85"/>
<path d="M224.79,282.35 l2.75,2.75 l-2.75,2.75 l-2.75,-2.75 Z" fill="#fff" stroke="#111" stroke-width="0.85"/>
<path d="M229.71,275.85 l2.75,2.75 l-2.75,2.75 l-2.75,-2.75 Z" fill="#fff" stroke="#111" stroke-width="0.85"/>
<path d="M234.64,271.05 l2.75,2.75 l-2.75,2.75 l-2.75,-2.75 Z" fill="#fff" stroke="#111" stroke-width="0.85"/>
<path d="M239.56,268.95 l2.75,2.75 l-2.75,2.75 l-2.75,-2.75 Z" fill="#fff" stroke="#111" stroke-width="0.85"/>
<path d="M244.48,268.05 l2.75,2.75 l-2.75,2.75 l-2.75,-2.75 Z" fill="#fff" stroke="#111" stroke-width="0.85"/>
<path d="M249.41,266.75 l2.75,2.75 l-2.75,2.75 l-2.75,-2.75 Z" fill="#fff" stroke="#111" stroke-width="0.85"/>
<path d="M254.33,267.75 l2.75,2.75 l-2.75,2.75 l-2.75,-2.75 Z" fill="#fff" stroke="#111" stroke-width="0.85"/>
<path d="M259.25,268.05 l2.75,2.75 l-2.75,2.75 l-2.75,-2.75 Z" fill="#fff" stroke="#111" stroke-width="0.85"/>
<path d="M264.17,267.75 l2.75,2.75 l-2.75,2.75 l-2.75,-2.75 Z" fill="#fff" stroke="#111" stroke-width="0.85"/>
<path d="M269.1,268.05 l2.75,2.75 l-2.75,2.75 l-2.75,-2.75 Z" fill="#fff" stroke="#111" stroke-width="0.85"/>
<path d="M274.02,268.45 l2.75,2.75 l-2.75,2.75 l-2.75,-2.75 Z" fill="#fff" stroke="#111" stroke-width="0.85"/>
<text x="110.3" y="302.2" font-size="7.5" text-anchor="start" fill="#0c0c0c" stroke="#0c0c0c" stroke-width="0.26" letter-spacing="-0.4">1 mg/ml</text>
<text x="150.1" y="302.4" font-size="7.5" text-anchor="start" fill="#0c0c0c" stroke="#0c0c0c" stroke-width="0.26" letter-spacing="-0.27">0.5 mg/ml</text>
<text x="220.7" y="304" font-size="7.5" text-anchor="start" fill="#0c0c0c" stroke="#0c0c0c" stroke-width="0.26" letter-spacing="-0.27">0.25 mg/ml</text>
<text x="280.7" y="386.8" font-size="7.5" text-anchor="start" fill="#0c0c0c" stroke="#0c0c0c" stroke-width="0.26" letter-spacing="-0.22">0.12 mg/ml</text>
<text x="281.6" y="401.3" font-size="7.5" text-anchor="start" fill="#0c0c0c" stroke="#0c0c0c" stroke-width="0.26" letter-spacing="-0.22">0.06 mg/ml</text>
<text x="282.4" y="412.7" font-size="7.5" text-anchor="start" fill="#0c0c0c" stroke="#0c0c0c" stroke-width="0.26" letter-spacing="-0.27">0 mg/ml</text>
</g>
<g id="panelD">
<path d="M398.8,244.2 V423.85 H615.2 M398.8,408.7 h-3.9 M398.8,393.48 h-2.1 M398.8,378.26 h-3.9 M398.8,363.04 h-2.1 M398.8,347.82 h-3.9 M398.8,332.6 h-2.1 M398.8,317.38 h-3.9 M398.8,302.16 h-2.1 M398.8,286.94 h-3.9 M398.8,271.72 h-2.1 M398.8,256.5 h-3.9 M403.3,423.85 v3.8 M424.42,423.85 v2 M445.54,423.85 v3.8 M466.66,423.85 v2 M487.78,423.85 v3.8 M508.9,423.85 v2 M530.02,423.85 v3.8 M551.14,423.85 v2 M572.26,423.85 v3.8 M593.38,423.85 v2 M614.5,423.85 v3.8" stroke="#5a5a5a" stroke-width="1.15" fill="none"/>
<text x="392.8" y="411.1" font-size="7" text-anchor="end" fill="#0c0c0c" stroke="#0c0c0c" stroke-width="0.26" letter-spacing="-0.42">5000</text>
<text x="392.8" y="380.66" font-size="7" text-anchor="end" fill="#0c0c0c" stroke="#0c0c0c" stroke-width="0.26" letter-spacing="-0.42">10000</text>
<text x="392.8" y="350.22" font-size="7" text-anchor="end" fill="#0c0c0c" stroke="#0c0c0c" stroke-width="0.26" letter-spacing="-0.42">15000</text>
<text x="392.8" y="319.78" font-size="7" text-anchor="end" fill="#0c0c0c" stroke="#0c0c0c" stroke-width="0.26" letter-spacing="-0.42">20000</text>
<text x="392.8" y="289.34" font-size="7" text-anchor="end" fill="#0c0c0c" stroke="#0c0c0c" stroke-width="0.26" letter-spacing="-0.42">25000</text>
<text x="392.8" y="258.9" font-size="7" text-anchor="end" fill="#0c0c0c" stroke="#0c0c0c" stroke-width="0.26" letter-spacing="-0.42">30000</text>
<text x="403.5" y="435.8" font-size="7" text-anchor="middle" fill="#0c0c0c" stroke="#0c0c0c" stroke-width="0.26" letter-spacing="-0.42">0</text>
<text x="445.74" y="435.8" font-size="7" text-anchor="middle" fill="#0c0c0c" stroke="#0c0c0c" stroke-width="0.26" letter-spacing="-0.42">10</text>
<text x="487.98" y="435.8" font-size="7" text-anchor="middle" fill="#0c0c0c" stroke="#0c0c0c" stroke-width="0.26" letter-spacing="-0.42">20</text>
<text x="530.22" y="435.8" font-size="7" text-anchor="middle" fill="#0c0c0c" stroke="#0c0c0c" stroke-width="0.26" letter-spacing="-0.42">30</text>
<text x="572.46" y="435.8" font-size="7" text-anchor="middle" fill="#0c0c0c" stroke="#0c0c0c" stroke-width="0.26" letter-spacing="-0.42">40</text>
<text x="614.7" y="435.8" font-size="7" text-anchor="middle" fill="#0c0c0c" stroke="#0c0c0c" stroke-width="0.26" letter-spacing="-0.42">50</text>
<text x="506.5" y="450.3" font-size="9.1" text-anchor="middle" fill="#0c0c0c" stroke="#0c0c0c" stroke-width="0.26" letter-spacing="-0.6">Time (min)</text>
<text transform="translate(370.5,339.6) rotate(-90)" font-size="9.2" text-anchor="middle" fill="#0c0c0c" stroke="#0c0c0c" stroke-width="0.26" letter-spacing="-0.1">Intensity (RFU)</text>
<path d="M403.3,404.4L409.64,402.8L415.97,401.2L422.31,399.8L428.64,398.3L434.98,396.9L441.32,395.4L447.65,393.6L453.99,391.6L460.32,389.2L466.66,388L473,385.7L479.33,383.7L485.67,381.1L492,378.5L498.34,376L504.68,372.5L511.01,369.6L517.35,366L523.68,362.3L530.02,358.5L536.36,354L542.69,349.1L549.03,344.3L555.36,338.3L561.7,332.8L568.04,325.4L574.37,317.7L580.71,310.3L587.04,300.8L593.38,290.5" stroke="#444" stroke-width="0.55" fill="none"/>
<path d="M415.97,399.6 V402.8 M413.87,399.6 h4.2 M413.87,402.8 h4.2 M422.31,397 V402.6 M420.21,397 h4.2 M420.21,402.6 h4.2 M428.64,395.3 V401.3 M426.54,395.3 h4.2 M426.54,401.3 h4.2 M434.98,393.75 V400.05 M432.88,393.75 h4.2 M432.88,400.05 h4.2 M441.32,392.1 V398.7 M439.22,392.1 h4.2 M439.22,398.7 h4.2 M447.65,390.25 V396.95 M445.55,390.25 h4.2 M445.55,396.95 h4.2 M453.99,388.2 V395 M451.89,388.2 h4.2 M451.89,395 h4.2 M460.32,385.77 V392.62 M458.22,385.77 h4.2 M458.22,392.62 h4.2 M466.66,384.55 V391.45 M464.56,384.55 h4.2 M464.56,391.45 h4.2 M473,382.22 V389.18 M470.9,382.22 h4.2 M470.9,389.18 h4.2 M479.33,380.2 V387.2 M477.23,380.2 h4.2 M477.23,387.2 h4.2 M485.67,377.5 V384.7 M483.57,377.5 h4.2 M483.57,384.7 h4.2 M492,374.8 V382.2 M489.9,374.8 h4.2 M489.9,382.2 h4.2 M498.34,372.2 V379.8 M496.24,372.2 h4.2 M496.24,379.8 h4.2 M504.68,368.6 V376.4 M502.58,368.6 h4.2 M502.58,376.4 h4.2 M511.01,365.53 V373.68 M508.91,365.53 h4.2 M508.91,373.68 h4.2 M517.35,361.75 V370.25 M515.25,361.75 h4.2 M515.25,370.25 h4.2 M523.68,357.88 V366.73 M521.58,357.88 h4.2 M521.58,366.73 h4.2 M530.02,353.9 V363.1 M527.92,353.9 h4.2 M527.92,363.1 h4.2 M536.36,349.05 V358.95 M534.26,349.05 h4.2 M534.26,358.95 h4.2 M542.69,343.8 V354.4 M540.59,343.8 h4.2 M540.59,354.4 h4.2 M549.03,338.65 V349.95 M546.93,338.65 h4.2 M546.93,349.95 h4.2 M555.36,332.3 V344.3 M553.26,332.3 h4.2 M553.26,344.3 h4.2 M561.7,326.33 V339.27 M559.6,326.33 h4.2 M559.6,339.27 h4.2 M568.04,318.47 V332.33 M565.94,318.47 h4.2 M565.94,332.33 h4.2 M574.37,310.3 V325.1 M572.27,310.3 h4.2 M572.27,325.1 h4.2 M580.71,302.3 V318.3 M578.61,302.3 h4.2 M578.61,318.3 h4.2 M587.04,293.1 V308.5 M584.94,293.1 h4.2 M584.94,308.5 h4.2 M593.38,281.9 V299.1 M591.28,281.9 h4.2 M591.28,299.1 h4.2" stroke="#666" stroke-width="0.7" fill="none"/>
<ellipse cx="403.3" cy="404.4" rx="2.26" ry="2.54" fill="#fff" stroke="#111" stroke-width="0.9"/>
<ellipse cx="409.64" cy="402.8" rx="2.26" ry="2.54" fill="#fff" stroke="#111" stroke-width="0.9"/>
<ellipse cx="415.97" cy="401.2" rx="2.26" ry="2.54" fill="#fff" stroke="#111" stroke-width="0.9"/>
<ellipse cx="422.31" cy="399.8" rx="2.26" ry="2.54" fill="#fff" stroke="#111" stroke-width="0.9"/>
<ellipse cx="428.64" cy="398.3" rx="2.26" ry="2.54" fill="#fff" stroke="#111" stroke-width="0.9"/>
<ellipse cx="434.98" cy="396.9" rx="2.26" ry="2.54" fill="#fff" stroke="#111" stroke-width="0.9"/>
<ellipse cx="441.32" cy="395.4" rx="2.26" ry="2.54" fill="#fff" stroke="#111" stroke-width="0.9"/>
<ellipse cx="447.65" cy="393.6" rx="2.26" ry="2.54" fill="#fff" stroke="#111" stroke-width="0.9"/>
<ellipse cx="453.99" cy="391.6" rx="2.26" ry="2.54" fill="#fff" stroke="#111" stroke-width="0.9"/>
<ellipse cx="460.32" cy="389.2" rx="2.26" ry="2.54" fill="#fff" stroke="#111" stroke-width="0.9"/>
<ellipse cx="466.66" cy="388" rx="2.26" ry="2.54" fill="#fff" stroke="#111" stroke-width="0.9"/>
<ellipse cx="473" cy="385.7" rx="2.26" ry="2.54" fill="#fff" stroke="#111" stroke-width="0.9"/>
<ellipse cx="479.33" cy="383.7" rx="2.26" ry="2.54" fill="#fff" stroke="#111" stroke-width="0.9"/>
<ellipse cx="485.67" cy="381.1" rx="2.26" ry="2.54" fill="#fff" stroke="#111" stroke-width="0.9"/>
<ellipse cx="492" cy="378.5" rx="2.26" ry="2.54" fill="#fff" stroke="#111" stroke-width="0.9"/>
<ellipse cx="498.34" cy="376" rx="2.26" ry="2.54" fill="#fff" stroke="#111" stroke-width="0.9"/>
<ellipse cx="504.68" cy="372.5" rx="2.26" ry="2.54" fill="#fff" stroke="#111" stroke-width="0.9"/>
<ellipse cx="511.01" cy="369.6" rx="2.26" ry="2.54" fill="#fff" stroke="#111" stroke-width="0.9"/>
<ellipse cx="517.35" cy="366" rx="2.26" ry="2.54" fill="#fff" stroke="#111" stroke-width="0.9"/>
<ellipse cx="523.68" cy="362.3" rx="2.26" ry="2.54" fill="#fff" stroke="#111" stroke-width="0.9"/>
<ellipse cx="530.02" cy="358.5" rx="2.26" ry="2.54" fill="#fff" stroke="#111" stroke-width="0.9"/>
<ellipse cx="536.36" cy="354" rx="2.26" ry="2.54" fill="#fff" stroke="#111" stroke-width="0.9"/>
<ellipse cx="542.69" cy="349.1" rx="2.26" ry="2.54" fill="#fff" stroke="#111" stroke-width="0.9"/>
<ellipse cx="549.03" cy="344.3" rx="2.26" ry="2.54" fill="#fff" stroke="#111" stroke-width="0.9"/>
<ellipse cx="555.36" cy="338.3" rx="2.26" ry="2.54" fill="#fff" stroke="#111" stroke-width="0.9"/>
<ellipse cx="561.7" cy="332.8" rx="2.26" ry="2.54" fill="#fff" stroke="#111" stroke-width="0.9"/>
<ellipse cx="568.04" cy="325.4" rx="2.26" ry="2.54" fill="#fff" stroke="#111" stroke-width="0.9"/>
<ellipse cx="574.37" cy="317.7" rx="2.26" ry="2.54" fill="#fff" stroke="#111" stroke-width="0.9"/>
<ellipse cx="580.71" cy="310.3" rx="2.26" ry="2.54" fill="#fff" stroke="#111" stroke-width="0.9"/>
<ellipse cx="587.04" cy="300.8" rx="2.26" ry="2.54" fill="#fff" stroke="#111" stroke-width="0.9"/>
<ellipse cx="593.38" cy="290.5" rx="2.26" ry="2.54" fill="#fff" stroke="#111" stroke-width="0.9"/>
<path d="M403.3,397.7L409.64,393L415.97,388L422.31,381.1L428.64,373.9L434.98,364.8L441.32,353.7L447.65,339.1L453.99,320L460.32,299.1L466.66,284.6L473,271.7L479.33,261.9L485.67,255.1L492,251.1L498.34,249.1L504.68,248.2L511.01,247.4L517.35,248L523.68,248L530.02,248.6L536.36,249.4L542.69,249.4L549.03,250.3L555.36,251.1L561.7,252.9L568.04,252.9L574.37,253.4L580.71,254.6L587.04,255.4L593.38,256.3" stroke="#444" stroke-width="0.55" fill="none"/>
<path d="M428.64,372.3 V375.5 M426.54,372.3 h4.2 M426.54,375.5 h4.2 M434.98,361.8 V367.8 M432.88,361.8 h4.2 M432.88,367.8 h4.2 M441.32,348.9 V358.5 M439.22,348.9 h4.2 M439.22,358.5 h4.2 M447.65,333.1 V345.1 M445.55,333.1 h4.2 M445.55,345.1 h4.2 M453.99,311.5 V328.5 M451.89,311.5 h4.2 M451.89,328.5 h4.2 M460.32,289.7 V308.5 M458.22,289.7 h4.2 M458.22,308.5 h4.2 M466.66,275.8 V293.4 M464.56,275.8 h4.2 M464.56,293.4 h4.2 M473,264.8 V278.6 M470.9,264.8 h4.2 M470.9,278.6 h4.2 M479.33,256.7 V267.1 M477.23,256.7 h4.2 M477.23,267.1 h4.2 M485.67,252.9 V257.3 M483.57,252.9 h4.2 M483.57,257.3 h4.2 M504.68,246.2 V250.2 M502.58,246.2 h4.2 M502.58,250.2 h4.2 M511.01,244.9 V249.9 M508.91,244.9 h4.2 M508.91,249.9 h4.2 M517.35,245.25 V250.75 M515.25,245.25 h4.2 M515.25,250.75 h4.2 M523.68,245 V251 M521.58,245 h4.2 M521.58,251 h4.2 M530.02,244.8 V252.4 M527.92,244.8 h4.2 M527.92,252.4 h4.2 M536.36,245.37 V253.43 M534.26,245.37 h4.2 M534.26,253.43 h4.2 M542.69,245.13 V253.67 M540.59,245.13 h4.2 M540.59,253.67 h4.2 M549.03,245.8 V254.8 M546.93,245.8 h4.2 M546.93,254.8 h4.2 M555.36,244.6 V257.6 M553.26,244.6 h4.2 M553.26,257.6 h4.2 M561.7,248.4 V257.4 M559.6,248.4 h4.2 M559.6,257.4 h4.2 M568.04,248.45 V257.35 M565.94,248.45 h4.2 M565.94,257.35 h4.2 M574.37,249 V257.8 M572.27,249 h4.2 M572.27,257.8 h4.2 M580.71,250.25 V258.95 M578.61,250.25 h4.2 M578.61,258.95 h4.2 M587.04,251.1 V259.7 M584.94,251.1 h4.2 M584.94,259.7 h4.2 M593.38,251.1 V261.5 M591.28,251.1 h4.2 M591.28,261.5 h4.2" stroke="#666" stroke-width="0.7" fill="none"/>
<ellipse cx="403.3" cy="397.7" rx="2.35" ry="2.6" fill="#000"/>
<ellipse cx="409.64" cy="393" rx="2.35" ry="2.6" fill="#000"/>
<ellipse cx="415.97" cy="388" rx="2.35" ry="2.6" fill="#000"/>
<ellipse cx="422.31" cy="381.1" rx="2.35" ry="2.6" fill="#000"/>
<ellipse cx="428.64" cy="373.9" rx="2.35" ry="2.6" fill="#000"/>
<ellipse cx="434.98" cy="364.8" rx="2.35" ry="2.6" fill="#000"/>
<ellipse cx="441.32" cy="353.7" rx="2.35" ry="2.6" fill="#000"/>
<ellipse cx="447.65" cy="339.1" rx="2.35" ry="2.6" fill="#000"/>
<ellipse cx="453.99" cy="320" rx="2.35" ry="2.6" fill="#000"/>
<ellipse cx="460.32" cy="299.1" rx="2.35" ry="2.6" fill="#000"/>
<ellipse cx="466.66" cy="284.6" rx="2.35" ry="2.6" fill="#000"/>
<ellipse cx="473" cy="271.7" rx="2.35" ry="2.6" fill="#000"/>
<ellipse cx="479.33" cy="261.9" rx="2.35" ry="2.6" fill="#000"/>
<ellipse cx="485.67" cy="255.1" rx="2.35" ry="2.6" fill="#000"/>
<ellipse cx="492" cy="251.1" rx="2.35" ry="2.6" fill="#000"/>
<ellipse cx="498.34" cy="249.1" rx="2.35" ry="2.6" fill="#000"/>
<ellipse cx="504.68" cy="248.2" rx="2.35" ry="2.6" fill="#000"/>
<ellipse cx="511.01" cy="247.4" rx="2.35" ry="2.6" fill="#000"/>
<ellipse cx="517.35" cy="248" rx="2.35" ry="2.6" fill="#000"/>
<ellipse cx="523.68" cy="248" rx="2.35" ry="2.6" fill="#000"/>
<ellipse cx="530.02" cy="248.6" rx="2.35" ry="2.6" fill="#000"/>
<ellipse cx="536.36" cy="249.4" rx="2.35" ry="2.6" fill="#000"/>
<ellipse cx="542.69" cy="249.4" rx="2.35" ry="2.6" fill="#000"/>
<ellipse cx="549.03" cy="250.3" rx="2.35" ry="2.6" fill="#000"/>
<ellipse cx="555.36" cy="251.1" rx="2.35" ry="2.6" fill="#000"/>
<ellipse cx="561.7" cy="252.9" rx="2.35" ry="2.6" fill="#000"/>
<ellipse cx="568.04" cy="252.9" rx="2.35" ry="2.6" fill="#000"/>
<ellipse cx="574.37" cy="253.4" rx="2.35" ry="2.6" fill="#000"/>
<ellipse cx="580.71" cy="254.6" rx="2.35" ry="2.6" fill="#000"/>
<ellipse cx="587.04" cy="255.4" rx="2.35" ry="2.6" fill="#000"/>
<ellipse cx="593.38" cy="256.3" rx="2.35" ry="2.6" fill="#000"/>
<path d="M403.3,408.2 l2.94,3.2 l-2.94,3.2 l-2.94,-3.2 Z" fill="#000"/>
<path d="M409.64,408.09 l2.94,3.2 l-2.94,3.2 l-2.94,-3.2 Z" fill="#000"/>
<path d="M415.97,407.98 l2.94,3.2 l-2.94,3.2 l-2.94,-3.2 Z" fill="#000"/>
<path d="M422.31,407.87 l2.94,3.2 l-2.94,3.2 l-2.94,-3.2 Z" fill="#000"/>
<path d="M428.64,407.76 l2.94,3.2 l-2.94,3.2 l-2.94,-3.2 Z" fill="#000"/>
<path d="M434.98,407.65 l2.94,3.2 l-2.94,3.2 l-2.94,-3.2 Z" fill="#000"/>
<path d="M441.32,407.54 l2.94,3.2 l-2.94,3.2 l-2.94,-3.2 Z" fill="#000"/>
<path d="M447.65,407.43 l2.94,3.2 l-2.94,3.2 l-2.94,-3.2 Z" fill="#000"/>
<path d="M453.99,407.32 l2.94,3.2 l-2.94,3.2 l-2.94,-3.2 Z" fill="#000"/>
<path d="M460.32,407.21 l2.94,3.2 l-2.94,3.2 l-2.94,-3.2 Z" fill="#000"/>
<path d="M466.66,407.1 l2.94,3.2 l-2.94,3.2 l-2.94,-3.2 Z" fill="#000"/>
<path d="M473,406.97 l2.94,3.2 l-2.94,3.2 l-2.94,-3.2 Z" fill="#000"/>
<path d="M479.33,406.84 l2.94,3.2 l-2.94,3.2 l-2.94,-3.2 Z" fill="#000"/>
<path d="M485.67,406.71 l2.94,3.2 l-2.94,3.2 l-2.94,-3.2 Z" fill="#000"/>
<path d="M492,406.58 l2.94,3.2 l-2.94,3.2 l-2.94,-3.2 Z" fill="#000"/>
<path d="M498.34,406.45 l2.94,3.2 l-2.94,3.2 l-2.94,-3.2 Z" fill="#000"/>
<path d="M504.68,406.32 l2.94,3.2 l-2.94,3.2 l-2.94,-3.2 Z" fill="#000"/>
<path d="M511.01,406.19 l2.94,3.2 l-2.94,3.2 l-2.94,-3.2 Z" fill="#000"/>
<path d="M517.35,406.06 l2.94,3.2 l-2.94,3.2 l-2.94,-3.2 Z" fill="#000"/>
<path d="M523.68,405.93 l2.94,3.2 l-2.94,3.2 l-2.94,-3.2 Z" fill="#000"/>
<path d="M530.02,405.8 l2.94,3.2 l-2.94,3.2 l-2.94,-3.2 Z" fill="#000"/>
<path d="M536.36,405.66 l2.94,3.2 l-2.94,3.2 l-2.94,-3.2 Z" fill="#000"/>
<path d="M542.69,405.52 l2.94,3.2 l-2.94,3.2 l-2.94,-3.2 Z" fill="#000"/>
<path d="M549.03,405.38 l2.94,3.2 l-2.94,3.2 l-2.94,-3.2 Z" fill="#000"/>
<path d="M555.36,405.24 l2.94,3.2 l-2.94,3.2 l-2.94,-3.2 Z" fill="#000"/>
<path d="M561.7,405.1 l2.94,3.2 l-2.94,3.2 l-2.94,-3.2 Z" fill="#000"/>
<path d="M568.04,404.96 l2.94,3.2 l-2.94,3.2 l-2.94,-3.2 Z" fill="#000"/>
<path d="M574.37,404.82 l2.94,3.2 l-2.94,3.2 l-2.94,-3.2 Z" fill="#000"/>
<path d="M580.71,404.68 l2.94,3.2 l-2.94,3.2 l-2.94,-3.2 Z" fill="#000"/>
<path d="M587.04,404.54 l2.94,3.2 l-2.94,3.2 l-2.94,-3.2 Z" fill="#000"/>
<path d="M593.38,404.4 l2.94,3.2 l-2.94,3.2 l-2.94,-3.2 Z" fill="#000"/>
<text x="600" y="262.1" font-size="7.5" text-anchor="start" fill="#0c0c0c" stroke="#0c0c0c" stroke-width="0.26" letter-spacing="-0.1">State 3</text>
<text x="600" y="294.5" font-size="7.5" text-anchor="start" fill="#0c0c0c" stroke="#0c0c0c" stroke-width="0.26" letter-spacing="-0.1">State 2</text>
<text x="598.9" y="410.7" font-size="7.5" text-anchor="start" fill="#0c0c0c" stroke="#0c0c0c" stroke-width="0.26" letter-spacing="-0.2">Control</text>
</g>
</g>
<g id="frame">
<path d="M0,0 H660 V467 H0 Z M1.7,1.6 V465 H658.3 V1.6 Z" fill="#000" fill-rule="evenodd"/>
<rect x="0" y="466" width="660" height="1" fill="#4a4a4a"/>
<rect x="0" y="0" width="27.6" height="28.6" fill="#000"/>
<text x="14.1" y="20.4" font-size="16.9" font-weight="700" text-anchor="middle" fill="#fff">a</text>
<rect x="266.9" y="0" width="26" height="28.6" fill="#000"/>
<text x="280.2" y="20.3" font-size="16.9" font-weight="700" text-anchor="middle" fill="#fff">b</text>
<rect x="14.1" y="237.8" width="26.6" height="28.4" fill="#000"/>
<text x="26.2" y="256.1" font-size="16.9" font-weight="700" text-anchor="middle" fill="#fff">c</text>
<rect x="342.9" y="237.8" width="27.8" height="28.4" fill="#000"/>
<text x="356" y="256.8" font-size="16.9" font-weight="700" text-anchor="middle" fill="#fff">d</text>
</g>
</svg></body></html>
